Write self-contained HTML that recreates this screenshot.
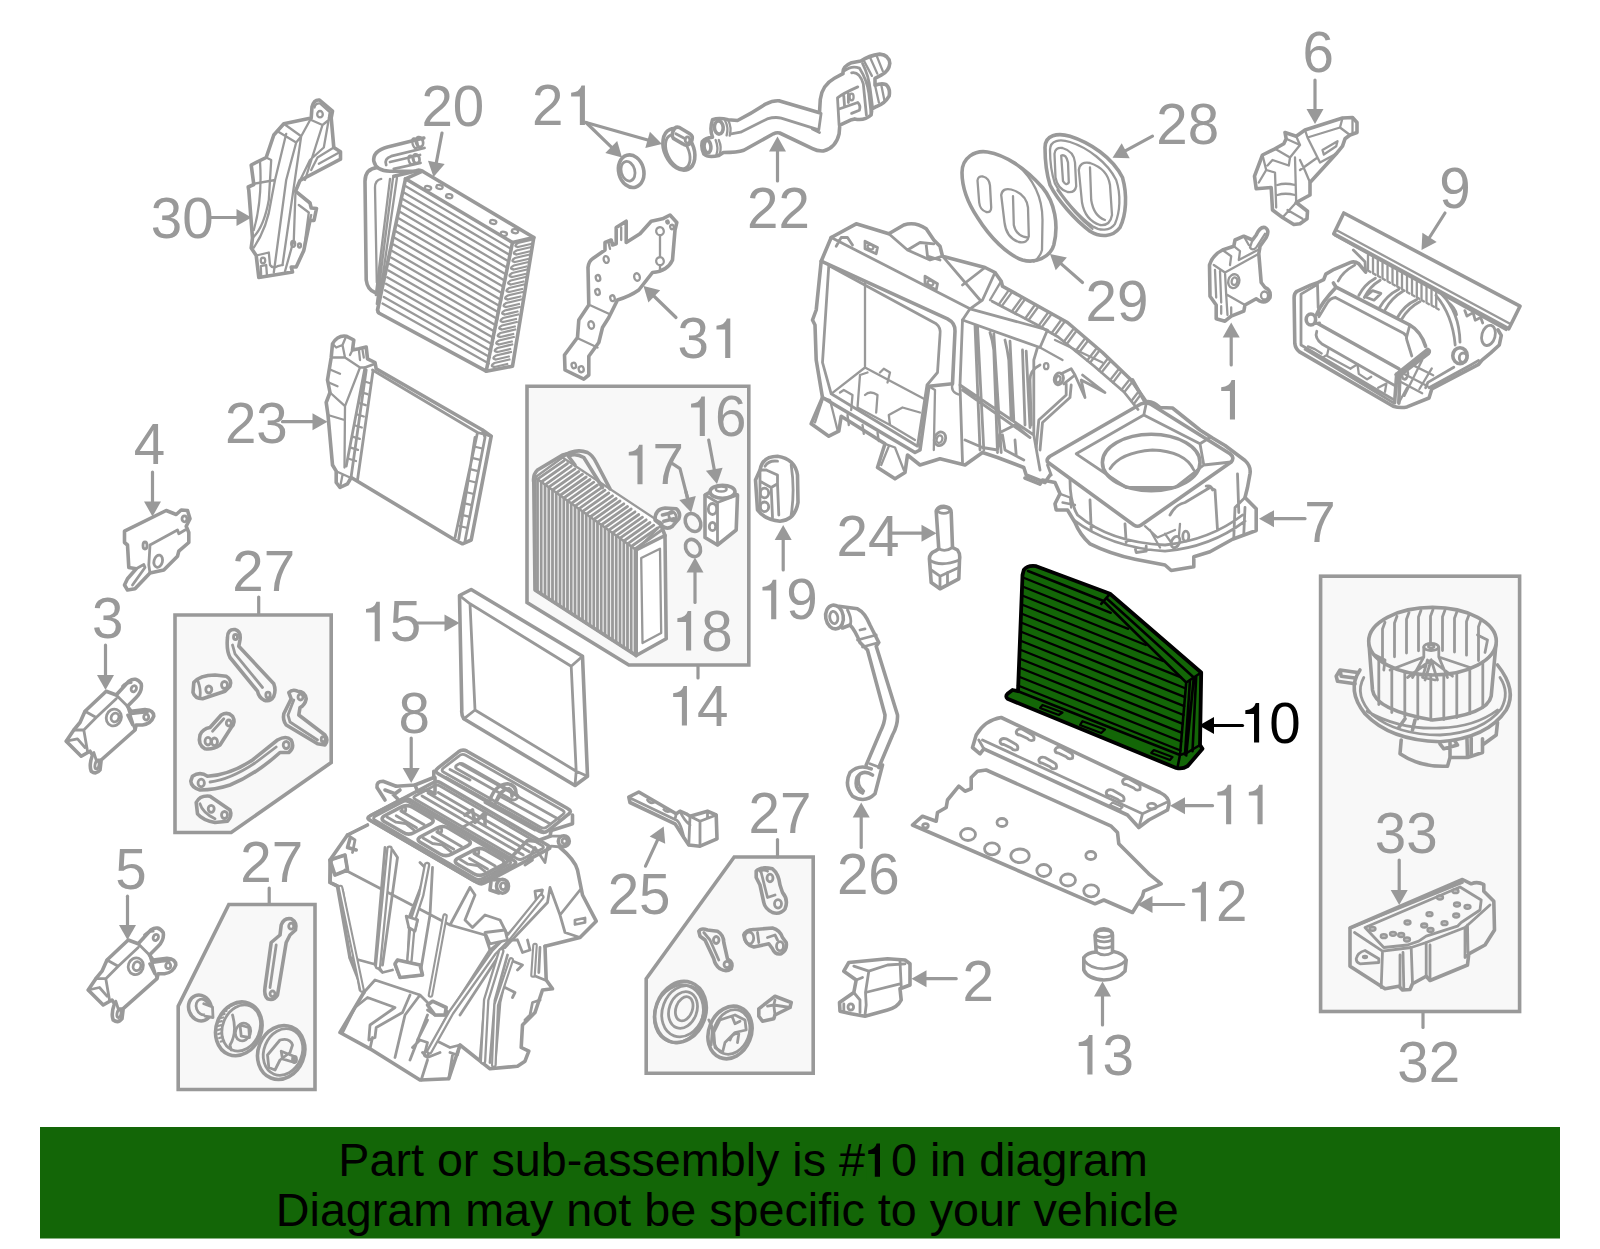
<!DOCTYPE html>
<html><head><meta charset="utf-8"><title>Diagram</title>
<style>html,body{margin:0;padding:0;background:#fff}svg{display:block}text{font-family:"Liberation Sans",sans-serif}</style>
</head><body>
<svg width="1600" height="1249" viewBox="0 0 1600 1249" stroke-linejoin="round" stroke-linecap="round">
<rect width="1600" height="1249" fill="#fff"/>
<rect x="40" y="1127" width="1520" height="111.5" fill="#136607"/>
<text x="338.3" y="1176.4" font-size="46.7" fill="#000">Part or sub-assembly is #10 in diagram</text>
<text x="275.8" y="1226.4" font-size="46.7" fill="#000">Diagram may not be specific to your vehicle</text>
<rect x="866.5" y="1139" width="24" height="42" fill="#136607"/>
<path d="M874.8 1176.8 L880 1176.8 L880 1143.6 L876.6 1143.6 Q875.2 1149.6 868.2 1150.4 L868.2 1154 L874.8 1154 Z" fill="#000"/>
<path d="M 283.8 123.8 L 311.2 118 L 312 107 Q 313.8 99.5 319.5 100 L 332.5 111.2 L 331.2 118 L 333.8 147.5 L 340.5 151.8 L 340.5 159.2 L 300 180.5 L 295.5 191.2 L 310 203 L 311.2 208 L 316.5 208.5 L 314 220.5 L 310 220.5 L 303.8 250.5 L 296.2 267 L 291.2 267 L 292.5 272 L 258.8 277.5 L 256.2 255.5 L 251.2 248 L 252.5 238 L 248.8 190.5 L 248.2 187 L 253.8 184.5 L 251.2 165 L 266.2 157.5 L 273.8 135 Z" fill="none" stroke="#999999" stroke-width="3.6"/>
<ellipse cx="320.0" cy="114.2" rx="2.8" ry="3.2" fill="none" stroke="#999999" stroke-width="2.3"/>
<path d="M 314.5 107.5 Q 315.5 103 320 103.5 L 330 112.5 L 328.8 118" fill="none" stroke="#999999" stroke-width="2.3"/>
<path d="M 283.8 123.8 L 301.2 136.2 L 311.2 118 M 301.2 136.2 L 282.5 265 M 277.5 131.2 L 296.2 142.5 L 301.2 136.2 M 296.2 142.5 L 286.2 180 L 273.8 272.5 M 286.2 133.8 L 275 180 L 253.8 183.8 M 275 180 L 271.2 200 Q 267.5 227.5 253.8 247.5" fill="none" stroke="#999999" stroke-width="2.3"/>
<path d="M 266.2 157.5 L 271.2 160 L 268.8 200 Q 263.8 227.5 252.5 238 M 260 161.2 Q 262.5 200 253.8 230" fill="none" stroke="#999999" stroke-width="2.3"/>
<path d="M 311.2 120 L 322.5 125 L 305 180 M 331.2 118 L 322.5 125 M 330 112.5 L 323.8 147.5 L 310 160 L 300 180.5 M 333.8 147.5 L 317.5 157.5 L 311.2 170 M 340.5 151.8 L 318.8 163.8" fill="none" stroke="#999999" stroke-width="2.3"/>
<path d="M 295.5 191.2 L 293.8 240 L 285 271.2 M 300 195 L 310 203 M 298.8 205 L 308.8 212.5 L 303.8 250.5 M 310 220.5 L 311.2 215" fill="none" stroke="#999999" stroke-width="2.3"/>
<ellipse cx="293.2" cy="243.8" rx="2.0" ry="3.0" fill="none" stroke="#999999" stroke-width="2.3"/>
<ellipse cx="299.5" cy="245.5" rx="1.5" ry="2.0" fill="none" stroke="#999999" stroke-width="2.3"/>
<ellipse cx="263.0" cy="260.5" rx="2.2" ry="2.8" fill="none" stroke="#999999" stroke-width="2.3"/>
<path d="M 256.2 255.5 L 268.8 252.5 L 270 265 Q 272.5 268.8 277.5 266.2 L 282.5 265 M 261.2 277 L 260.8 266.2 L 266.2 265 L 267 276.2" fill="none" stroke="#999999" stroke-width="2.3"/>
<text x="150.8" y="237.8" font-size="56.5" fill="#999999" text-anchor="start">3</text>
<text x="182.2" y="237.8" font-size="56.5" fill="#999999" text-anchor="start">0</text>
<path d="M211.0 217.5 L238.5 217.5" stroke="#999999" stroke-width="3.2" fill="none"/>
<path d="M251.5 217.5 L236.5 226.0 L236.5 209.0 Z" fill="#999999" stroke="none"/>
<text x="421.4" y="126.2" font-size="56.5" fill="#999999" text-anchor="start">2</text>
<text x="452.8" y="126.2" font-size="56.5" fill="#999999" text-anchor="start">0</text>
<path d="M442.0 133.0 L436.0 164.2" stroke="#999999" stroke-width="3.2" fill="none"/>
<path d="M433.5 177.0 L428.0 160.7 L444.7 163.9 Z" fill="#999999" stroke="none"/>
<path d="M 405.5 178.8 L 512.5 242.5 L 486.2 371.2 L 378.8 313 L 377.5 310 Z" fill="none" stroke="#999999" stroke-width="3.6"/>
<path d="M 405.5 178.8 L 422.5 171.2 L 533.8 237.5 L 512.5 242.5" fill="none" stroke="#999999" stroke-width="3.6"/>
<path d="M 533.8 237.5 L 512.5 366.2 L 486.2 371.2" fill="none" stroke="#999999" stroke-width="3.6"/>
<path d="M 404.2 185.2 L 511.2 249" fill="none" stroke="#999999" stroke-width="2.3"/>
<path d="M 403 192 L 510 255.2" fill="none" stroke="#999999" stroke-width="2.3"/>
<path d="M 401.8 198.5 L 508.8 261.5" fill="none" stroke="#999999" stroke-width="2.3"/>
<path d="M 400.8 205 L 507.5 268" fill="none" stroke="#999999" stroke-width="2.3"/>
<path d="M 399.5 211.5 L 506.2 274.5" fill="none" stroke="#999999" stroke-width="2.3"/>
<path d="M 398.2 218 L 505 280.8" fill="none" stroke="#999999" stroke-width="2.3"/>
<path d="M 397 224.8 L 503.8 287" fill="none" stroke="#999999" stroke-width="2.3"/>
<path d="M 395.8 231.2 L 502.5 293.5" fill="none" stroke="#999999" stroke-width="2.3"/>
<path d="M 394.5 237.8 L 501.2 300" fill="none" stroke="#999999" stroke-width="2.3"/>
<path d="M 393.5 244.5 L 500 306.2" fill="none" stroke="#999999" stroke-width="2.3"/>
<path d="M 392.2 251 L 498.8 312.5" fill="none" stroke="#999999" stroke-width="2.3"/>
<path d="M 391 257.5 L 497.5 319" fill="none" stroke="#999999" stroke-width="2.3"/>
<path d="M 389.8 264 L 496.2 325.5" fill="none" stroke="#999999" stroke-width="2.3"/>
<path d="M 388.5 270.5 L 495 331.8" fill="none" stroke="#999999" stroke-width="2.3"/>
<path d="M 387.2 277.2 L 493.8 338" fill="none" stroke="#999999" stroke-width="2.3"/>
<path d="M 386 283.8 L 492.5 344.5" fill="none" stroke="#999999" stroke-width="2.3"/>
<path d="M 385 290.2 L 491.2 351" fill="none" stroke="#999999" stroke-width="2.3"/>
<path d="M 383.8 297 L 490 357.2" fill="none" stroke="#999999" stroke-width="2.3"/>
<path d="M 382.5 303.5 L 488.8 363.5" fill="none" stroke="#999999" stroke-width="2.3"/>
<path d="M 533 239.5 L 518 243 Q 512.8 246 518 247 L 530.8 244" fill="none" stroke="#999999" stroke-width="2.3"/>
<path d="M 531.5 247 L 516.5 250.5 Q 511.2 253.5 516.5 254.5 L 529.2 251.5" fill="none" stroke="#999999" stroke-width="2.3"/>
<path d="M 530 254.5 L 515 258 Q 509.8 261 515 262 L 528 259" fill="none" stroke="#999999" stroke-width="2.3"/>
<path d="M 528.5 262 L 513.8 265.5 Q 508.2 268.5 513.8 269.5 L 526.5 266.5" fill="none" stroke="#999999" stroke-width="2.3"/>
<path d="M 527 269.5 L 512.2 273 Q 506.8 276 512.2 277 L 525 274" fill="none" stroke="#999999" stroke-width="2.3"/>
<path d="M 525.5 277 L 510.8 280.5 Q 505.2 283.5 510.8 284.5 L 523.5 281.5" fill="none" stroke="#999999" stroke-width="2.3"/>
<path d="M 524 284.5 L 509.2 288 Q 503.8 291 509.2 292 L 522 289" fill="none" stroke="#999999" stroke-width="2.3"/>
<path d="M 522.8 292 L 507.8 295.5 Q 502.5 298.5 507.8 299.5 L 520.5 296.5" fill="none" stroke="#999999" stroke-width="2.3"/>
<path d="M 521.2 299.5 L 506.2 303 Q 501 306 506.2 307 L 519 304" fill="none" stroke="#999999" stroke-width="2.3"/>
<path d="M 519.8 307 L 504.8 310.5 Q 499.5 313.5 504.8 314.5 L 517.5 311.5" fill="none" stroke="#999999" stroke-width="2.3"/>
<path d="M 518.2 314.5 L 503.2 318 Q 498 321 503.2 322 L 516 319" fill="none" stroke="#999999" stroke-width="2.3"/>
<path d="M 516.8 322 L 502 325.5 Q 496.5 328.5 502 329.5 L 514.8 326.5" fill="none" stroke="#999999" stroke-width="2.3"/>
<path d="M 515.2 329.5 L 500.5 333 Q 495 336 500.5 337 L 513.2 334" fill="none" stroke="#999999" stroke-width="2.3"/>
<path d="M 513.8 337 L 499 340.5 Q 493.5 343.5 499 344.5 L 511.8 341.5" fill="none" stroke="#999999" stroke-width="2.3"/>
<path d="M 512.2 344.5 L 497.5 348 Q 492 351 497.5 352 L 510.2 349" fill="none" stroke="#999999" stroke-width="2.3"/>
<path d="M 511 352 L 496 355.5 Q 490.8 358.5 496 359.5 L 508.8 356.5" fill="none" stroke="#999999" stroke-width="2.3"/>
<path d="M 509.5 359.5 L 494.5 363 Q 489.2 366 494.5 367 L 507.2 364" fill="none" stroke="#999999" stroke-width="2.3"/>
<ellipse cx="428.0" cy="188.0" rx="3.2" ry="2.0" fill="none" stroke="#999999" stroke-width="2.3" transform="rotate(10 428.0 188.0)"/>
<ellipse cx="439.5" cy="187.0" rx="3.2" ry="2.0" fill="none" stroke="#999999" stroke-width="2.3" transform="rotate(10 439.5 187.0)"/>
<ellipse cx="449.2" cy="196.2" rx="3.2" ry="2.0" fill="none" stroke="#999999" stroke-width="2.3" transform="rotate(10 449.2 196.2)"/>
<ellipse cx="493.2" cy="222.0" rx="3.2" ry="2.0" fill="none" stroke="#999999" stroke-width="2.3" transform="rotate(10 493.2 222.0)"/>
<ellipse cx="503.8" cy="233.8" rx="3.2" ry="2.0" fill="none" stroke="#999999" stroke-width="2.3" transform="rotate(10 503.8 233.8)"/>
<ellipse cx="515.0" cy="231.2" rx="3.2" ry="2.0" fill="none" stroke="#999999" stroke-width="2.3" transform="rotate(10 515.0 231.2)"/>
<path d="M 422.5 171.2 Q 418.8 168.8 415 171.2 L 393.8 176.2 M 377.5 167.5 Q 365 168.8 365 181.2 L 366.2 280 Q 367.5 290 375 292.5" fill="none" stroke="#999999" stroke-width="3.6"/>
<path d="M 381.2 178.8 Q 375 180 375 187.5 L 376.8 282.5" fill="none" stroke="#999999" stroke-width="2.3"/>
<path d="M 390 178.8 L 375.8 295 M 397 177.5 L 377.5 312.5 L 379 313.2 M 393 178 L 376.8 303.8" fill="none" stroke="#999999" stroke-width="2.3"/>
<path d="M 423.8 138 L 387.5 147 Q 372.5 151.2 373.8 161.2 Q 376.2 171.2 390 171.2 L 415 171.2" fill="none" stroke="#999999" stroke-width="3.6"/>
<path d="M 424.5 148 L 391.2 156.2 Q 383.8 158.8 386.2 165 M 420 155 L 390 162 M 420.5 163 L 393.8 168.8" fill="none" stroke="#999999" stroke-width="2.8"/>
<ellipse cx="419.5" cy="142.0" rx="3.5" ry="5.0" fill="none" stroke="#999999" stroke-width="2.8" transform="rotate(-15 419.5 142.0)"/>
<ellipse cx="415.0" cy="143.2" rx="2.5" ry="5.0" fill="none" stroke="#999999" stroke-width="2.3" transform="rotate(-15 415.0 143.2)"/>
<ellipse cx="416.2" cy="158.8" rx="3.2" ry="4.5" fill="none" stroke="#999999" stroke-width="2.8" transform="rotate(-15 416.2 158.8)"/>
<ellipse cx="411.2" cy="160.0" rx="2.5" ry="4.5" fill="none" stroke="#999999" stroke-width="2.3" transform="rotate(-15 411.2 160.0)"/>
<path d="M 651.2 221.2 L 662.5 218.8 L 670 215 L 676.8 222.5 L 675 230 L 672.5 260 Q 667.5 271.2 652.5 272.5 L 638.8 290 Q 630 296.2 617.5 300 L 608.8 317.5 L 602.5 327.5 L 598.8 342.5 L 588.8 356.2 L 588.8 375 L 583.8 379.2 L 565 370 L 564.5 355 L 577.5 337.5 L 578.8 320 L 588.8 305 L 588 267.5 Q 588.8 261.2 592.5 258.8 L 605 250 L 605 242.5 L 611.2 240 L 612.5 245 L 616.2 243.8 L 616.2 227.5 L 626.2 221.2 L 626.2 242.5 L 640 233.8 Z" fill="none" stroke="#999999" stroke-width="3.6"/>
<ellipse cx="606.2" cy="259.5" rx="2.5" ry="3.5" fill="none" stroke="#999999" stroke-width="2.3" transform="rotate(-15 606.2 259.5)"/>
<ellipse cx="598.0" cy="278.0" rx="2.2" ry="3.0" fill="none" stroke="#999999" stroke-width="2.3" transform="rotate(-15 598.0 278.0)"/>
<ellipse cx="597.5" cy="292.0" rx="2.2" ry="3.0" fill="none" stroke="#999999" stroke-width="2.3" transform="rotate(-15 597.5 292.0)"/>
<ellipse cx="612.5" cy="298.2" rx="2.2" ry="3.0" fill="none" stroke="#999999" stroke-width="2.3" transform="rotate(-15 612.5 298.2)"/>
<ellipse cx="637.0" cy="277.0" rx="2.8" ry="3.8" fill="none" stroke="#999999" stroke-width="2.3" transform="rotate(-15 637.0 277.0)"/>
<ellipse cx="591.2" cy="325.0" rx="2.8" ry="3.8" fill="none" stroke="#999999" stroke-width="2.3" transform="rotate(-15 591.2 325.0)"/>
<ellipse cx="660.0" cy="231.2" rx="3.8" ry="4.0" fill="none" stroke="#999999" stroke-width="2.3" transform="rotate(-15 660.0 231.2)"/>
<ellipse cx="660.0" cy="261.2" rx="3.8" ry="4.0" fill="none" stroke="#999999" stroke-width="2.3" transform="rotate(-15 660.0 261.2)"/>
<ellipse cx="672.0" cy="227.0" rx="1.8" ry="2.2" fill="none" stroke="#999999" stroke-width="2.3" transform="rotate(-15 672.0 227.0)"/>
<ellipse cx="573.8" cy="365.5" rx="2.2" ry="2.8" fill="none" stroke="#999999" stroke-width="2.3" transform="rotate(-15 573.8 365.5)"/>
<ellipse cx="581.2" cy="369.2" rx="2.5" ry="3.0" fill="none" stroke="#999999" stroke-width="2.3" transform="rotate(-15 581.2 369.2)"/>
<ellipse cx="667.5" cy="222.0" rx="1.2" ry="1.5" fill="none" stroke="#999999" stroke-width="2.3" transform="rotate(-15 667.5 222.0)"/>
<path d="M 660 235.5 L 660 257 M 660 265.5 L 660 270 M 590.8 305.5 L 608.8 313.8 M 578.8 338.8 L 597.5 347.5 M 621.2 227.5 L 621.2 240 M 608.8 243.8 L 610 248.8" fill="none" stroke="#999999" stroke-width="2.3"/>
<text x="677.5" y="358.0" font-size="56.5" fill="#999999" text-anchor="start">3</text>
<path d="M725.19 358.00 L730.29 358.00 L730.29 318.50 L726.89 318.50 Q725.09 325.00 716.49 325.80 L716.49 329.40 L725.19 329.40 Z" fill="#999999" stroke="none"/>
<path d="M676.0 317.5 L652.8 295.0" stroke="#999999" stroke-width="3.2" fill="none"/>
<path d="M643.5 286.0 L660.2 290.3 L648.4 302.5 Z" fill="#999999" stroke="none"/>
<ellipse cx="631.2" cy="171.2" rx="12.5" ry="16.5" fill="none" stroke="#999999" stroke-width="3.6" transform="rotate(-15 631.2 171.2)"/>
<ellipse cx="628.0" cy="171.2" rx="6.8" ry="10.0" fill="none" stroke="#999999" stroke-width="2.8" transform="rotate(-15 628.0 171.2)"/>
<text x="532.1" y="125.0" font-size="56.5" fill="#999999" text-anchor="start">2</text>
<path d="M579.84 125.00 L584.94 125.00 L584.94 85.50 L581.54 85.50 Q579.74 92.00 571.14 92.80 L571.14 96.40 L579.84 96.40 Z" fill="#999999" stroke="none"/>
<path d="M586.0 122.5 L612.7 148.4" stroke="#999999" stroke-width="3.2" fill="none"/>
<path d="M622.0 157.5 L605.3 153.1 L617.2 140.9 Z" fill="#999999" stroke="none"/>
<path d="M586.0 122.5 L649.5 140.5" stroke="#999999" stroke-width="3.2" fill="none"/>
<path d="M662.0 144.0 L645.3 148.1 L649.9 131.7 Z" fill="#999999" stroke="none"/>
<path d="M 712.5 119.7 Q 718.8 117.3 728.1 119.7 L 737.5 120.5 Q 751.6 113.4 765.6 104.1 Q 773.4 100.2 779.7 100.9 L 819.5 112.7 L 820.3 99.4 Q 821.9 85.3 834.4 78.3 L 843 73.6 Q 842.2 66.6 851.6 62.7 L 860.9 61.1 Q 868.8 55.6 879.7 54.1 Q 889.1 54.8 889.8 63.4 Q 889.1 71.2 881.2 75.2 L 875 78.3 L 875 85.3 Q 881.2 83 885.9 84.5 Q 890.6 88.4 889.1 96.2 Q 884.4 104.1 876.6 106.4 L 871.9 108.8 L 871.1 115 Q 864.1 121.2 854.7 118.9 L 851.6 119.7 L 839.8 125.2 L 839.1 133.8 Q 835.9 147.8 823.4 150.9 Q 817.2 151.2 812.5 148.6 L 779.7 133 Q 776.6 132.2 773.4 133.8 L 743.8 150.2 Q 737.5 152.5 723.4 152.5 L 718.8 155.6 Q 707.8 158 703.9 154.1 Q 700.8 147.8 702.3 141.6 Q 705.5 137.7 712.5 137.2 Q 709.4 129.1 712.5 119.7 Z" fill="none" stroke="#999999" stroke-width="3.6"/>
<path d="M 731.2 133.8 L 740.6 132.2 Q 756.2 124.4 767.2 118.9 Q 775 116.6 781.2 118.1 L 818.8 129.8 L 821.1 113.4 M 812.5 129.1 L 819.5 132.5" fill="none" stroke="#999999" stroke-width="2.8"/>
<ellipse cx="718.8" cy="127.5" rx="4.4" ry="6.6" fill="none" stroke="#999999" stroke-width="3.6" transform="rotate(-5 718.8 127.5)"/>
<path d="M 725 120.5 Q 728.9 127.5 726.6 135.3 M 728.1 120 Q 732 127.5 729.7 135.6" fill="none" stroke="#999999" stroke-width="2.3"/>
<ellipse cx="707.5" cy="146.6" rx="3.4" ry="6.2" fill="none" stroke="#999999" stroke-width="3.6" transform="rotate(-5 707.5 146.6)"/>
<path d="M 715.6 140 Q 718.8 147.8 716.4 154.8 M 718.8 140 Q 722.2 147.8 719.5 154.1" fill="none" stroke="#999999" stroke-width="2.3"/>
<path d="M 837.5 97.8 L 839.1 125.2 M 837.5 97.8 Q 842.2 93.9 857.8 86.9 M 843.8 96.2 L 844.5 105.6 M 848.4 93.9 L 848.4 102.5 M 839.8 108.8 L 857.8 102.5 Q 860.9 105.6 859.4 110.3 L 851.6 113.4" fill="none" stroke="#999999" stroke-width="2.8"/>
<ellipse cx="851.6" cy="97.0" rx="2.0" ry="3.3" fill="none" stroke="#999999" stroke-width="2.3"/>
<path d="M 843.8 71.2 Q 851.6 65 859.4 68.1 Q 867.2 80.6 868.8 93.1 L 871.1 113.4 M 862.5 63.4 Q 868.8 75.9 870.3 90 L 872.7 108.8 M 851.6 72.8 Q 859.4 71.2 863.3 83.8 L 866.4 115" fill="none" stroke="#999999" stroke-width="2.8"/>
<path d="M 864.1 61.1 L 871.9 75.9 M 870.3 58 L 877.3 73.6 M 876.6 55.6 L 882.8 71.2 M 875 85.3 L 878.9 102.5 M 881.2 84.5 L 884.4 100.2" fill="none" stroke="#999999" stroke-width="2.3"/>
<text x="747.1" y="228.0" font-size="56.5" fill="#999999" text-anchor="start">2</text>
<text x="778.5" y="228.0" font-size="56.5" fill="#999999" text-anchor="start">2</text>
<path d="M777.5 181.0 L777.5 149.5" stroke="#999999" stroke-width="3.2" fill="none"/>
<path d="M777.5 136.5 L786.0 151.5 L769.0 151.5 Z" fill="#999999" stroke="none"/>
<ellipse cx="678.9" cy="149.4" rx="14.4" ry="21.9" fill="none" stroke="#999999" stroke-width="3.6" transform="rotate(-25 678.9 149.4)"/>
<ellipse cx="677.8" cy="151.7" rx="10.6" ry="18.0" fill="none" stroke="#999999" stroke-width="2.8" transform="rotate(-25 677.8 151.7)"/>
<path d="M 673.4 130.6 Q 675 126.2 679.4 127.5 L 689.8 133.8 Q 693.4 136.1 691.9 140.3 L 689.8 143.9 Q 686.2 146.6 682.8 143.9 L 673.4 138.4 Q 671.1 135.3 673.4 130.6 Z" fill="#fff" stroke="#999999" stroke-width="3.6"/>
<ellipse cx="687.5" cy="140.0" rx="2.3" ry="3.1" fill="none" stroke="#999999" stroke-width="2.8"/>
<path d="M 675.8 133.8 L 685.2 138.8" fill="none" stroke="#999999" stroke-width="2.8"/>
<path d="M 962 172.5 C 962 157.5 975 150 987.5 152 C 1005 155 1025 167.5 1042.5 187.5 C 1055 202.5 1058.8 225 1053.8 245 C 1050 257.5 1035 263.8 1022.5 260 C 1007.5 255 990 237.5 977.5 217.5 C 967.5 202.5 962 187.5 962 172.5 Z" fill="none" stroke="#999999" stroke-width="3.6"/>
<path d="M 1015 163 C 1032.5 177.5 1042.5 197.5 1042.5 220 L 1042 250 Q 1040 257.5 1033.8 261.5" fill="none" stroke="#999999" stroke-width="2.3"/>
<path d="M 977.5 180.5 Q 978 175.8 983 176.5 Q 989.2 178 990 185.5 L 991.2 207.5 Q 991.2 213 986.2 212 Q 980 210 979.2 202.5 Z" fill="none" stroke="#999999" stroke-width="2.3"/>
<path d="M 1001.2 195 Q 1002.5 187.5 1011.2 189.5 Q 1026.2 193.8 1028 207.5 L 1028.8 236.2 Q 1027.5 243.8 1018.8 242 Q 1006.2 237.5 1004.5 222.5 Z M 1013 196.2 L 1013.8 225 Q 1016.2 236.2 1027.5 237.5" fill="none" stroke="#999999" stroke-width="2.3"/>
<path d="M 1045 147.5 C 1045 135 1057.5 132.5 1070 136.2 C 1090 142.5 1112.5 157.5 1122.5 177.5 C 1127.5 195 1126.2 215 1120 227.5 C 1112.5 237.5 1100 237.5 1090 231.2 C 1075 220 1057.5 200 1050 185 C 1046.2 172.5 1045 160 1045 147.5 Z" fill="none" stroke="#999999" stroke-width="3.6"/>
<path d="M 1050 150 C 1050 140 1060 138.8 1070 142 C 1087.5 147.5 1107.5 162.5 1116.2 180 C 1121.2 195 1120 212.5 1115 223.8 C 1110 231.2 1100 231.2 1092.5 226.2 C 1078.8 216.2 1062.5 197.5 1055 183.8 C 1051.2 172.5 1050 160 1050 150 Z" fill="none" stroke="#999999" stroke-width="2.3"/>
<path d="M 1054.5 153.8 Q 1055 147 1062.5 148 Q 1073.8 151.2 1075 162.5 L 1076.2 186.2 Q 1075 193 1067.5 192 Q 1057.5 188.8 1055.5 177.5 Z M 1061.2 155.5 Q 1066.2 153.8 1068 162.5 L 1068.8 182.5 Q 1066.2 186.2 1063 181.2 Z" fill="none" stroke="#999999" stroke-width="2.3"/>
<path d="M 1078.8 170 Q 1080 161.2 1090 163 Q 1107.5 168.8 1110 185 L 1112 215 Q 1110 226.2 1100 225 Q 1085 220 1082 202.5 Z M 1090 167.5 L 1091.2 200 Q 1093.8 216.2 1105 220 M 1057.5 190 Q 1075 215 1092.5 228.8" fill="none" stroke="#999999" stroke-width="2.3"/>
<text x="1156.2" y="143.5" font-size="56.5" fill="#999999" text-anchor="start">2</text>
<text x="1187.7" y="143.5" font-size="56.5" fill="#999999" text-anchor="start">8</text>
<path d="M1152.5 136.2 L1123.9 151.6" stroke="#999999" stroke-width="3.2" fill="none"/>
<path d="M1112.5 157.8 L1121.7 143.2 L1129.7 158.2 Z" fill="#999999" stroke="none"/>
<text x="1085.6" y="321.0" font-size="56.5" fill="#999999" text-anchor="start">2</text>
<text x="1117.0" y="321.0" font-size="56.5" fill="#999999" text-anchor="start">9</text>
<path d="M1082.5 282.5 L1059.8 262.6" stroke="#999999" stroke-width="3.2" fill="none"/>
<path d="M1050.0 254.0 L1066.9 257.5 L1055.7 270.3 Z" fill="#999999" stroke="none"/>
<path d="M 1216.2 318.8 L 1216.2 305 L 1210 296.2 L 1209.5 265 Q 1212.5 255 1222.5 250 L 1233.8 246.2 L 1235 240 L 1243.8 236.2 L 1252.5 240 L 1256.2 235 Q 1260 226.2 1265 227.5 Q 1270 230 1266.2 237.5 L 1260 246.2 L 1258.8 253.8 L 1261.2 282.5 L 1265 287.5 Q 1271.2 290 1270 297.5 Q 1266.2 303.8 1260 301.2 L 1256.2 298.8 L 1245 305 L 1243.8 311.2 L 1231.2 316.2 L 1225 321.2 Z" fill="none" stroke="#999999" stroke-width="3.6"/>
<ellipse cx="1233.8" cy="281.2" rx="5.5" ry="7.0" fill="none" stroke="#999999" stroke-width="2.3" transform="rotate(15 1233.8 281.2)"/>
<ellipse cx="1234.5" cy="281.2" rx="2.8" ry="3.8" fill="none" stroke="#999999" stroke-width="2.3" transform="rotate(15 1234.5 281.2)"/>
<path d="M 1213.8 265 L 1225 272.5 L 1258.8 253.8 M 1225 272.5 L 1226.2 295 L 1227.5 315 M 1215 270 L 1216.2 297.5 M 1220 271.2 L 1221.2 302.5 M 1222.5 250 L 1231.2 256.2 L 1230 265 M 1233.8 246.2 L 1240 251.2 L 1238.8 260 L 1260 248.8 M 1243.8 236.2 L 1248.8 245 M 1252.5 240 L 1250 247.5 Q 1252.5 251.2 1256.2 247.5 L 1265 233.8 M 1227.5 295 L 1245 305 M 1231.2 316.2 L 1231.2 307.5 M 1221.2 313.8 L 1221.2 306.2" fill="none" stroke="#999999" stroke-width="2.3"/>
<ellipse cx="1264.5" cy="295.5" rx="3.5" ry="4.0" fill="none" stroke="#999999" stroke-width="2.3"/>
<path d="M1229.90 419.50 L1235.00 419.50 L1235.00 380.00 L1231.60 380.00 Q1229.80 386.50 1221.20 387.30 L1221.20 390.90 L1229.90 390.90 Z" fill="#999999" stroke="none"/>
<path d="M1231.2 365.0 L1231.2 335.5" stroke="#999999" stroke-width="3.2" fill="none"/>
<path d="M1231.2 322.5 L1239.7 337.5 L1222.7 337.5 Z" fill="#999999" stroke="none"/>
<path d="M 1285 132.5 L 1296.2 136.2 L 1305 130 L 1342.5 118 L 1352.5 117.5 L 1357 122.5 L 1357 132.5 L 1350 135 L 1345 138.8 L 1342.5 146.2 L 1336.2 153.8 L 1310 182.5 L 1310 195 L 1296.2 202.5 L 1307.5 211.2 L 1307 218.8 L 1300 223.8 L 1293.8 224.5 L 1282.5 217.5 L 1272.5 210 L 1271.2 187.5 L 1256.2 188.8 L 1254.5 176.2 L 1262.5 155 L 1275 148.8 L 1283.8 143.8 L 1286.2 138.8 Z" fill="none" stroke="#999999" stroke-width="3.6"/>
<path d="M 1296.2 136.2 L 1300 145 L 1286.2 138.8 M 1305 130 L 1307.5 137.5 L 1320 162.5 L 1336.2 153.8 M 1307.5 137.5 L 1340 127.5 L 1342.5 118 M 1322.5 150 L 1337.5 141.2 L 1336.2 146.2 L 1323.8 154.5 Z M 1275 148.8 L 1290 157.5 L 1300 145 M 1290 157.5 L 1288.8 165.5 L 1272.5 160 L 1267.5 165.5 M 1262.5 155 L 1266.2 170 L 1258.8 182.5 M 1266.2 170 L 1275 172.5 L 1276.2 207.5 M 1295 157.5 L 1296.2 202.5 M 1300 160 Q 1305 170 1310 182.5 M 1277.5 185 Q 1285 182.5 1295 185 M 1277.5 195 Q 1285 192.5 1295 195 M 1282.5 217.5 L 1296.2 202.5 M 1287.5 210 L 1302.5 218.8 M 1340 127.5 L 1350 135 M 1352.5 117.5 L 1352.5 132.5 M 1300 170 L 1317.5 157.5" fill="none" stroke="#999999" stroke-width="2.3"/>
<text x="1302.4" y="71.8" font-size="56.5" fill="#999999" text-anchor="start">6</text>
<path d="M1315.0 80.0 L1315.0 111.0" stroke="#999999" stroke-width="3.2" fill="none"/>
<path d="M1315.0 124.0 L1306.5 109.0 L1323.5 109.0 Z" fill="#999999" stroke="none"/>
<path d="M 1343.8 213 L 1520 306.2 L 1508.8 328.8 L 1333.8 233.8 Z" fill="none" stroke="#999999" stroke-width="3.6"/>
<path d="M 1336.2 230 L 1510 323.8 M 1335 235.5 L 1506.2 330" fill="none" stroke="#999999" stroke-width="2.3"/>
<path d="M 1368 255 L 1368 270.5 L 1370.5 272" fill="none" stroke="#999999" stroke-width="2.3"/>
<path d="M 1373 257.8 L 1373 273.2 L 1375.5 274.8" fill="none" stroke="#999999" stroke-width="2.3"/>
<path d="M 1377.8 260.2 L 1377.8 275.8 L 1380.2 277.2" fill="none" stroke="#999999" stroke-width="2.3"/>
<path d="M 1382.5 263 L 1382.5 278.5 L 1385 280" fill="none" stroke="#999999" stroke-width="2.3"/>
<path d="M 1387.5 265.8 L 1387.5 281.2 L 1390 282.8" fill="none" stroke="#999999" stroke-width="2.3"/>
<path d="M 1392.5 268.5 L 1392.5 284 L 1395 285.5" fill="none" stroke="#999999" stroke-width="2.3"/>
<path d="M 1397.2 271 L 1397.2 286.5 L 1399.8 288" fill="none" stroke="#999999" stroke-width="2.3"/>
<path d="M 1402 273.8 L 1402 289.2 L 1404.5 290.8" fill="none" stroke="#999999" stroke-width="2.3"/>
<path d="M 1407 276.5 L 1407 292 L 1409.5 293.5" fill="none" stroke="#999999" stroke-width="2.3"/>
<path d="M 1412 279.2 L 1412 294.8 L 1414.5 296.2" fill="none" stroke="#999999" stroke-width="2.3"/>
<path d="M 1416.8 281.8 L 1416.8 297.2 L 1419.2 298.8" fill="none" stroke="#999999" stroke-width="2.3"/>
<path d="M 1421.5 284.5 L 1421.5 300 L 1424 301.5" fill="none" stroke="#999999" stroke-width="2.3"/>
<path d="M 1426.5 287.2 L 1426.5 302.8 L 1429 304.2" fill="none" stroke="#999999" stroke-width="2.3"/>
<path d="M 1431.5 289.8 L 1431.5 305.2 L 1434 306.8" fill="none" stroke="#999999" stroke-width="2.3"/>
<path d="M 1436.2 292.5 L 1436.2 308 L 1438.8 309.5" fill="none" stroke="#999999" stroke-width="2.3"/>
<path d="M 1365.7 272 L 1358.8 263.8 Q 1354.7 261 1350.6 262.4 L 1334.1 269.3 L 1325.8 274.1 L 1323.7 279.6 L 1316.8 283 L 1310.6 285.1 L 1296.9 291.3 Q 1294.1 293.4 1294.1 297.5 L 1294.8 343.6 Q 1295.5 349.1 1299.6 351.9 L 1393.2 406.2 Q 1400.1 408.3 1407 406.9 L 1429 398 L 1431.8 389 L 1478.6 364.3 L 1482 360.1 L 1491 352.6 L 1499.3 345 L 1501.3 335.4 L 1497.9 329.8" fill="none" stroke="#999999" stroke-width="3.6"/>
<path d="M 1353.3 250 L 1365 261.7 L 1365.7 272 M 1317.5 284.4 L 1301 294.1 L 1301 345 L 1394.6 400.1 M 1305.1 349.4 L 1393.9 403.1 M 1317.5 284.4 L 1318.2 307.8" fill="none" stroke="#999999" stroke-width="2.8"/>
<path d="M 1333.4 283 L 1336.1 287.2 L 1409.8 325 Q 1420.8 331.2 1425.6 346.4 M 1336.1 287.2 Q 1321.7 302.3 1316.8 314 M 1318.2 323.7 L 1398.8 368.7 M 1396 374.6 L 1427.7 349.4 Q 1430.7 350.8 1428.4 353.5 L 1399 376 M 1396.7 373.9 L 1394.6 402.8 M 1400.1 371.8 L 1398.8 403.1" fill="none" stroke="#999999" stroke-width="3.6"/>
<path d="M 1335.4 297.5 L 1403.6 333.3 Q 1407 335.4 1406.7 339.5 L 1411.8 356 M 1335.4 297.5 Q 1329.9 298.2 1327.2 303 L 1318.9 316.8 M 1409.8 325 L 1406.3 338.1 M 1316.8 331.2 Q 1314.1 338.1 1322.4 344.3 L 1396 386.3" fill="none" stroke="#999999" stroke-width="2.8"/>
<ellipse cx="1310.9" cy="319.5" rx="4.7" ry="5.5" fill="none" stroke="#999999" stroke-width="3.6"/>
<path d="M 1314.8 316.1 L 1319.6 313.3 M 1315.5 323.7 L 1319.6 323" fill="none" stroke="#999999" stroke-width="2.8"/>
<path d="M 1338.2 281 Q 1342.3 272 1354.7 265.1 M 1358.8 295.4 Q 1364.3 284.4 1375.4 278.2 M 1364.3 297.5 Q 1369.8 286.5 1380.2 280.3 M 1379.5 307.8 Q 1386.4 295.4 1398.8 289.2 M 1385 309.9 Q 1391.2 298.2 1402.9 291.3 M 1397.4 317.5 Q 1404.3 305.1 1416.7 299.6 M 1401.5 319.5 Q 1408.4 307.8 1420.1 301.6 M 1365 296.8 L 1372.6 290.6 L 1380.9 293.4 L 1374 300.2 Z" fill="none" stroke="#999999" stroke-width="2.8"/>
<path d="M 1435.9 295.4 Q 1452.4 314.7 1455.2 345 M 1441.4 294.1 Q 1459.3 311.9 1460 342.2 M 1448.3 302.3 Q 1455.2 307.8 1456.6 314.7 M 1464.8 310.6 L 1466.9 316.1 L 1473.1 312.6 L 1475.2 320.2 L 1480.7 317.5 L 1482.7 323" fill="none" stroke="#999999" stroke-width="2.8"/>
<ellipse cx="1460.0" cy="355.7" rx="7.2" ry="8.0" fill="none" stroke="#999999" stroke-width="3.6"/>
<ellipse cx="1463.2" cy="357.7" rx="3.9" ry="4.7" fill="none" stroke="#999999" stroke-width="2.8"/>
<ellipse cx="1488.5" cy="335.4" rx="6.6" ry="10.3" fill="none" stroke="#999999" stroke-width="2.8" transform="rotate(15 1488.5 335.4)"/>
<path d="M 1401.5 382.2 L 1422.2 393.2 M 1404.3 373.9 L 1427.7 386.3 M 1413.9 365.6 L 1433.2 375.3 M 1422.2 360.1 L 1404.3 395.9 M 1431.8 368.4 L 1419.4 389 M 1407 387.7 L 1398.8 402.8" fill="none" stroke="#999999" stroke-width="2.3"/>
<ellipse cx="1405.0" cy="374.6" rx="2.8" ry="4.7" fill="none" stroke="#999999" stroke-width="2.8" transform="rotate(10 1405.0 374.6)"/>
<path d="M 1307.9 346.4 L 1314.8 349.1 L 1321.7 353.5 M 1328.5 349.1 L 1327.2 354.6 L 1323 357.4 M 1350.6 368.4 L 1357.5 364.3 L 1358.8 373.9 L 1367.1 379.4 L 1371.2 376.7 M 1378.1 387.7 L 1386.4 383.5 L 1385 391.8 M 1327.2 356 L 1350.6 368.7" fill="none" stroke="#999999" stroke-width="2.3"/>
<path d="M 1429 387.7 L 1469 365.9 L 1478.6 360.4 M 1425.6 387.7 L 1427.9 382.4 L 1453.8 367.3" fill="none" stroke="#999999" stroke-width="2.8"/>
<text x="1439.3" y="208.0" font-size="56.5" fill="#999999" text-anchor="start">9</text>
<path d="M1445.0 213.0 L1428.5 239.0" stroke="#999999" stroke-width="3.2" fill="none"/>
<path d="M1421.5 250.0 L1422.4 232.8 L1436.7 241.9 Z" fill="#999999" stroke="none"/>
<path d="M 831.2 237.5 L 856.2 223.8 L 888.8 233.8 L 903.8 225 Q 915 221.2 926.2 228.8 L 933.8 240 L 940 246.2 L 942.5 256.2 L 985 267.5 L 995 272.5 L 1001.2 281.2 L 1002.5 286.2 L 1045 310 L 1067.5 322.5 L 1102.5 352.5 L 1131.2 380 L 1145 400" fill="none" stroke="#999999" stroke-width="3.6"/>
<path d="M 831.2 237.5 L 821.2 261.2 L 816.2 310 L 812.5 320 L 815 325 L 816.2 360 L 821.2 390 L 822.5 397.5 L 811.2 423.8 L 828.8 436.2 L 838.8 431.2 L 841.2 416.2 L 885 443.8 L 877.5 467.5 L 895 478.8 L 905 472.5 L 907.5 455 L 920 465 L 940 458.8 L 965 465 L 982.5 452.5 L 997.5 457.5 L 1023.8 467.5 L 1026.2 475 L 1045 482.5 L 1050 475" fill="none" stroke="#999999" stroke-width="3.6"/>
<path d="M 821.2 261.2 L 947.5 318.8 Q 955.5 323 955 331.2 L 952.5 383.8 L 928.8 386.2 L 920 450 L 915 452.5 L 822.5 397.5" fill="none" stroke="#999999" stroke-width="3.6"/>
<path d="M 828.8 265.5 L 936.2 323.8 Q 941.2 327.5 940 335 L 937.5 372.5 L 927 385 L 917.5 446.2 L 831.2 393.8 L 822.5 362.5 Z" fill="none" stroke="#999999" stroke-width="2.8"/>
<path d="M 831.2 237.5 L 970 308.8 L 962.5 320 L 960 385 L 962.5 462.5 M 836.2 246.2 L 841.2 237.5 L 847.5 237.5 L 852.5 245 M 888.8 233.8 L 907.5 250 L 930 260 L 942.5 256.2 M 907.5 250 L 920 242.5 L 933.8 243.8 M 926.2 245 L 927.5 256.2 L 940 260 M 942.5 256.2 L 980 300 M 985 267.5 L 962.5 285 M 995 272.5 L 982.5 300 L 970 308.8" fill="none" stroke="#999999" stroke-width="2.8"/>
<path d="M 865 241.2 L 877.5 247.5 L 876.2 253.8 L 865 248.8 Z M 925 276.2 L 937.5 283.8 L 936.2 290 L 925 283.8 Z" fill="none" stroke="#999999" stroke-width="2.8"/>
<ellipse cx="870.5" cy="247.0" rx="3.0" ry="2.2" fill="none" stroke="#999999" stroke-width="2.3" transform="rotate(20 870.5 247.0)"/>
<ellipse cx="930.5" cy="283.0" rx="3.0" ry="2.2" fill="none" stroke="#999999" stroke-width="2.3" transform="rotate(20 930.5 283.0)"/>
<path d="M 865 282.5 L 865 367.5 L 831.2 393.8 M 865 367.5 L 926.2 400 M 867.5 372.5 L 860 375 L 857.5 407.5 L 890 425 L 888.8 415 L 902.5 407.5 L 920 412.5 M 840 392.5 L 843.8 390 L 852.5 395 L 851.2 410 M 880 372.5 L 883.8 368.8 L 890 372.5 L 887.5 382.5 M 865 395 Q 870 390 877.5 395 L 876.2 412.5 M 890 425 L 915 440 M 847.5 415 L 848.8 425 M 862.5 425 L 863.8 433.8 M 877.5 432.5 L 878.8 441.2 M 822.5 397.5 L 830 400 L 837.5 430 M 815 422.5 L 822.5 400 M 885 443.8 L 895 447.5 L 903.8 470 M 881.2 465 L 888.8 446.2" fill="none" stroke="#999999" stroke-width="2.3"/>
<ellipse cx="940.0" cy="438.8" rx="5.5" ry="7.0" fill="none" stroke="#999999" stroke-width="2.8" transform="rotate(20 940.0 438.8)"/>
<ellipse cx="939.5" cy="439.2" rx="2.8" ry="3.8" fill="none" stroke="#999999" stroke-width="2.3" transform="rotate(20 939.5 439.2)"/>
<path d="M 928.8 386.2 L 935 390 L 933.8 450 M 952.5 383.8 Q 950 392.5 960 395" fill="none" stroke="#999999" stroke-width="2.3"/>
<path d="M 970 308.8 L 1047.5 330 L 1040 347.5 L 962.5 320 M 975 325 L 980 450 M 977.5 326.2 L 983.8 450 M 990 332.5 Q 992.5 340 993.8 350 L 997.5 452.5 M 993.8 333.8 L 1001.2 452.5 M 1005 340 Q 1007.5 350 1008.8 360 L 1011.2 420 M 1010 341.2 L 1013.8 420 M 1022.5 350 L 1025 425 M 1026.2 351.2 L 1030 427.5 M 1037.5 347.5 L 1033.8 360 L 1033.8 435 M 960 385 L 1033.8 435 L 1040 470 M 962.5 390 L 1030 437.5 M 965 440 L 982.5 447.5 L 997.5 450 L 1000 432.5 L 1015 425 L 1030 437.5 M 1002.5 435 L 1005 450 L 1023.8 460 M 1015 440 L 1016.2 455" fill="none" stroke="#999999" stroke-width="2.8"/>
<path d="M 1001.2 281.2 L 990 300 M 1055 340 L 1102.5 362.5 M 1040 347.5 L 1062.5 360" fill="none" stroke="#999999" stroke-width="2.3"/>
<ellipse cx="1046.2" cy="366.2" rx="2.2" ry="3.0" fill="none" stroke="#999999" stroke-width="2.3"/>
<ellipse cx="1058.8" cy="378.8" rx="4.5" ry="6.0" fill="none" stroke="#999999" stroke-width="2.8" transform="rotate(15 1058.8 378.8)"/>
<ellipse cx="1058.2" cy="379.2" rx="2.2" ry="3.2" fill="none" stroke="#999999" stroke-width="2.3" transform="rotate(15 1058.2 379.2)"/>
<path d="M 1061.2 373.8 L 1071.2 368.8 L 1075 375 L 1063.8 383.8 M 1075 375 L 1085 397.5 L 1081.2 380 L 1105 392.5 L 1082.5 375 M 1040 365 Q 1030 370 1030 380 L 1031.2 425 M 1071.2 385 L 1070 397.5 L 1042.5 422.5 L 1040 450 M 1066.2 383.8 L 1066.2 395 L 1038.8 420 L 1036.2 447.5" fill="none" stroke="#999999" stroke-width="2.8"/>
<path d="M 1132.5 380 L 1145 401.8 Q 1152.5 400 1160 407.5 L 1172.5 408 L 1185 418 L 1200 430 L 1212.5 438 L 1225 445.5 L 1245 460.5 Q 1251.2 466.2 1250 473.8 L 1247.5 487.5 L 1245 497.5 L 1256.2 508.8 L 1256.2 530.5 L 1232.5 539.2 L 1210 551.8 L 1193.8 556.8 L 1193.8 566.8 L 1171.2 570.5 L 1165 565 L 1135 559.2 Q 1110 553.8 1090 543.8 Q 1080 535 1075 522.5 L 1067.5 510 L 1056.2 510 L 1055 503.8 L 1060 493.8 L 1055 482.5 L 1042.5 480 L 1040 484.2 L 1025 478" fill="none" stroke="#999999" stroke-width="3.6"/>
<path d="M 1047.5 462 Q 1046.2 458.8 1050 456.2 L 1141.2 403.8 Q 1146.2 401.8 1151.2 404.5 L 1230 453.8 Q 1235 457.5 1231.2 462 L 1141.2 525 Q 1137.5 527.5 1133.8 525 Z" fill="none" stroke="#999999" stroke-width="3.6"/>
<path d="M 1076.2 453.8 L 1143.8 415 L 1200 443.8 L 1203.8 465 L 1175 487.5 L 1126.2 487.5 Z M 1143.8 415 L 1146.2 403.8 M 1200 443.8 L 1210 437.5 M 1203.8 465 L 1231.2 462" fill="none" stroke="#999999" stroke-width="2.8"/>
<ellipse cx="1151.2" cy="462.5" rx="48.8" ry="28.2" fill="none" stroke="#999999" stroke-width="3.6"/>
<path d="M 1110 468.8 Q 1120 452.5 1152.5 450 Q 1185 451.2 1193.8 470" fill="none" stroke="#999999" stroke-width="2.8"/>
<path d="M 1047.5 465 L 1051.2 475 M 1070 480 Q 1070 502.5 1077.5 515 M 1077.5 515 Q 1110 542.5 1165 545 Q 1210 540 1242.5 515 M 1073.8 520 Q 1110 547.5 1165 551.2 Q 1210 547.5 1245 521.2 M 1090 500 L 1091.2 530 M 1125 523.8 L 1126.2 542.5 M 1170 515 Q 1175 505 1185 502.5 L 1210 487.5 L 1215 490 L 1217.5 530 M 1237.5 473.8 L 1238.8 512.5 M 1245 497.5 L 1235 507.5 L 1233.8 537.5 M 1245 507.5 L 1243.8 533.8 M 1135 547.5 L 1136.2 552.5 L 1146.2 551.2 L 1146.2 546.2 M 1206.2 486.2 Q 1211.2 485 1212.5 490" fill="none" stroke="#999999" stroke-width="2.8"/>
<path d="M 1145 526.2 L 1157.5 537.5 L 1175 530 M 1150 530 L 1160 547.5 M 1180 523.8 L 1178.8 537.5 M 1165 533.8 L 1171.2 542.5" fill="none" stroke="#999999" stroke-width="2.3"/>
<ellipse cx="1175.5" cy="542.0" rx="4.0" ry="6.0" fill="none" stroke="#999999" stroke-width="2.8" transform="rotate(25 1175.5 542.0)"/>
<ellipse cx="1185.8" cy="536.2" rx="3.0" ry="5.0" fill="none" stroke="#999999" stroke-width="2.8"/>
<path d="M 1060 493.8 L 1070 497.5 L 1071.2 507.5 M 1062.5 502.5 L 1075 505" fill="none" stroke="#999999" stroke-width="2.3"/>
<text x="1304.3" y="541.5" font-size="56.5" fill="#999999" text-anchor="start">7</text>
<path d="M1305.0 518.7 L1272.0 518.7" stroke="#999999" stroke-width="3.2" fill="none"/>
<path d="M1259.0 518.7 L1274.0 510.2 L1274.0 527.2 Z" fill="#999999" stroke="none"/>
<path d="M 992 301.2 L 1035.5 324 L 1058.2 337 L 1094 366 L 1124 392 L 1138 409.5" fill="none" stroke="#999999" stroke-width="2.8"/>
<path d="M 1009 289.8 L 998.5 304.8 M 1012.2 291.8 L 1001.8 306.2" fill="none" stroke="#999999" stroke-width="2.3"/>
<path d="M 1022.2 297.2 L 1011.8 311.5 M 1025.2 299 L 1015 313.2" fill="none" stroke="#999999" stroke-width="2.3"/>
<path d="M 1035.2 304.5 L 1025.2 318.5 M 1038.5 306.5 L 1028.5 320.2" fill="none" stroke="#999999" stroke-width="2.3"/>
<path d="M 1048.5 312 L 1038.5 325.8 M 1051.8 313.8 L 1041.5 327.5" fill="none" stroke="#999999" stroke-width="2.3"/>
<path d="M 1061.5 319.5 L 1051.5 333.2 M 1064.8 321.5 L 1054.8 335" fill="none" stroke="#999999" stroke-width="2.3"/>
<path d="M 1073.8 328.5 L 1064 341.5 M 1076.5 330.8 L 1066.8 344" fill="none" stroke="#999999" stroke-width="2.3"/>
<path d="M 1085.2 338.2 L 1075.5 351 M 1088 340.8 L 1078.5 353.2" fill="none" stroke="#999999" stroke-width="2.3"/>
<path d="M 1096.8 348 L 1087.2 360.5 M 1099.5 350.5 L 1090 362.8" fill="none" stroke="#999999" stroke-width="2.3"/>
<path d="M 1108 358.2 L 1098.8 370.2 M 1110.8 360.8 L 1101.5 372.5" fill="none" stroke="#999999" stroke-width="2.3"/>
<path d="M 1119 368.8 L 1110.2 380 M 1121.5 371.2 L 1113 382.5" fill="none" stroke="#999999" stroke-width="2.3"/>
<path d="M 1129.8 379.2 L 1121.5 389.8 M 1132.2 382 L 1124.2 392.2" fill="none" stroke="#999999" stroke-width="2.3"/>
<path d="M 1138.8 391.2 L 1131.2 401.2 M 1141 394.2 L 1133.8 404" fill="none" stroke="#999999" stroke-width="2.3"/>
<path d="M 332.5 343.8 Q 337.5 335 346.2 336.2 L 353.8 340 L 352.5 350 L 358.8 348.8 L 366.2 347 L 367.5 358.8 L 375 362.5 L 376.2 368.8 L 482.5 430 L 491.2 436.2 L 471.2 540 L 462.5 543.8 L 455 540 L 351.2 477.5 L 347.5 483.8 L 340 487.5 L 336.2 482.5 L 336.2 471.2 L 332.5 465 L 328 415 L 326.2 402.5 L 330 392.5 L 327.5 380 L 331.2 357.5 Z" fill="none" stroke="#999999" stroke-width="3.6"/>
<path d="M 372.5 370 L 477.5 432.5 L 455 537.5 M 351.2 476.2 L 366.2 370 M 373 371 L 357.5 480 M 346.2 466.2 L 365 367.5 L 375 363.8 M 477.5 432.5 L 491.2 436.2 M 482.5 430 L 485 437.5 L 465 541.2 M 475 437.5 L 458.8 538.8" fill="none" stroke="#999999" stroke-width="2.8"/>
<path d="M 363 381 L 369.5 383" fill="none" stroke="#999999" stroke-width="2.3"/>
<path d="M 474.2 446.5 L 482.2 448.5" fill="none" stroke="#999999" stroke-width="2.3"/>
<path d="M 361 392.2 L 367.5 394.2" fill="none" stroke="#999999" stroke-width="2.3"/>
<path d="M 472 457.8 L 480 459.8" fill="none" stroke="#999999" stroke-width="2.3"/>
<path d="M 359.2 403.2 L 365.8 405.2" fill="none" stroke="#999999" stroke-width="2.3"/>
<path d="M 470 469.2 L 478 471.2" fill="none" stroke="#999999" stroke-width="2.3"/>
<path d="M 357.2 414.5 L 363.8 416.5" fill="none" stroke="#999999" stroke-width="2.3"/>
<path d="M 468 480.5 L 476 482.5" fill="none" stroke="#999999" stroke-width="2.3"/>
<path d="M 355.2 425.5 L 361.8 427.5" fill="none" stroke="#999999" stroke-width="2.3"/>
<path d="M 465.8 492 L 473.8 494" fill="none" stroke="#999999" stroke-width="2.3"/>
<path d="M 353.2 436.8 L 359.8 438.8" fill="none" stroke="#999999" stroke-width="2.3"/>
<path d="M 463.8 503.2 L 471.8 505.2" fill="none" stroke="#999999" stroke-width="2.3"/>
<path d="M 351.5 447.8 L 358 449.8" fill="none" stroke="#999999" stroke-width="2.3"/>
<path d="M 461.8 514.8 L 469.8 516.8" fill="none" stroke="#999999" stroke-width="2.3"/>
<path d="M 349.5 459 L 356 461" fill="none" stroke="#999999" stroke-width="2.3"/>
<path d="M 459.5 526 L 467.5 528" fill="none" stroke="#999999" stroke-width="2.3"/>
<path d="M 346.2 336.2 L 342.5 345 L 336.2 347.5 L 332.5 343.8 M 342.5 345 L 345 357.5 L 331.2 357.5 M 345 357.5 L 360 367.5 L 365 367.5 M 360 367.5 L 345 406.2 L 344.5 467.5 M 330 392.5 L 345 406.2 M 328 415 L 344.5 420 M 352.5 350 L 350 355 M 358.8 348.8 L 360 360 M 362.5 350 L 363.8 357.5 M 336.2 471.2 L 350 477.5 M 340 487.5 L 342.5 475 M 331.2 370 L 340 373.8 M 328.8 382.5 L 337.5 386.2" fill="none" stroke="#999999" stroke-width="2.3"/>
<text x="224.9" y="443.0" font-size="56.5" fill="#999999" text-anchor="start">2</text>
<text x="256.3" y="443.0" font-size="56.5" fill="#999999" text-anchor="start">3</text>
<path d="M282.5 421.7 L314.5 421.7" stroke="#999999" stroke-width="3.2" fill="none"/>
<path d="M327.5 421.7 L312.5 430.2 L312.5 413.2 Z" fill="#999999" stroke="none"/>
<path d="M 527 386.2 L 748.8 386.2 L 748.8 665 L 628.8 665 L 527 602.5 Z" fill="#f8f8f8" stroke="#999999" stroke-width="3.6" stroke-linejoin="miter"/>
<path d="M698.0 666.0 L698.0 678.0" stroke="#999999" stroke-width="3.2" fill="none"/>
<path d="M 535 477.5 L 562.5 457.5 L 662.5 523.8 L 636.2 550 Z" fill="#fff" stroke="#999999" stroke-width="2.3"/>
<path d="M 636.2 550 L 665 535.5 L 666.2 638.8 L 636.2 655.5 Z" fill="#fff" stroke="#999999" stroke-width="3.6"/>
<path d="M 535 477.5 L 535 590 L 636.2 655.5 L 636.2 550 Z" fill="#fff" stroke="#999999" stroke-width="2.3"/>
<path d="M 537.5 591.5 L 537.5 479.2 L 563.8 460.8" fill="none" stroke="#999999" stroke-width="2.8"/>
<path d="M 541.2 594 L 541.2 482 L 567.5 463.5" fill="none" stroke="#999999" stroke-width="2.8"/>
<path d="M 545 596.5 L 545 484.8 L 571.2 466.2" fill="none" stroke="#999999" stroke-width="2.8"/>
<path d="M 548.8 599 L 548.8 487.2 L 575 468.8" fill="none" stroke="#999999" stroke-width="2.8"/>
<path d="M 552.5 601.2 L 552.5 490 L 578.8 471.5" fill="none" stroke="#999999" stroke-width="2.8"/>
<path d="M 556.2 603.8 L 556.2 492.8 L 582.5 474.2" fill="none" stroke="#999999" stroke-width="2.8"/>
<path d="M 560 606.2 L 560 495.5 L 586.2 477" fill="none" stroke="#999999" stroke-width="2.8"/>
<path d="M 563.8 608.5 L 563.8 498 L 590 479.5" fill="none" stroke="#999999" stroke-width="2.8"/>
<path d="M 567.5 611 L 567.5 500.8 L 593.8 482.2" fill="none" stroke="#999999" stroke-width="2.8"/>
<path d="M 571.2 613.5 L 571.2 503.5 L 597.5 485" fill="none" stroke="#999999" stroke-width="2.8"/>
<path d="M 575 616 L 575 506.2 L 601.2 487.8" fill="none" stroke="#999999" stroke-width="2.8"/>
<path d="M 578.8 618.2 L 578.8 508.8 L 605 490.2" fill="none" stroke="#999999" stroke-width="2.8"/>
<path d="M 582.5 620.8 L 582.5 511.5 L 608.8 493" fill="none" stroke="#999999" stroke-width="2.8"/>
<path d="M 586.2 623.2 L 586.2 514.2 L 612.5 495.8" fill="none" stroke="#999999" stroke-width="2.8"/>
<path d="M 590 625.5 L 590 517 L 616.2 498.5" fill="none" stroke="#999999" stroke-width="2.8"/>
<path d="M 593.8 628 L 593.8 519.5 L 620 501" fill="none" stroke="#999999" stroke-width="2.8"/>
<path d="M 597.5 630.5 L 597.5 522.2 L 623.8 503.8" fill="none" stroke="#999999" stroke-width="2.8"/>
<path d="M 601.2 632.8 L 601.2 525 L 627.5 506.5" fill="none" stroke="#999999" stroke-width="2.8"/>
<path d="M 605 635.2 L 605 527.5 L 631.2 509" fill="none" stroke="#999999" stroke-width="2.8"/>
<path d="M 608.8 637.8 L 608.8 530.2 L 635 511.8" fill="none" stroke="#999999" stroke-width="2.8"/>
<path d="M 612.5 640.2 L 612.5 533 L 638.8 514.5" fill="none" stroke="#999999" stroke-width="2.8"/>
<path d="M 616.2 642.5 L 616.2 535.8 L 642.5 517.2" fill="none" stroke="#999999" stroke-width="2.8"/>
<path d="M 620 645 L 620 538.2 L 646.2 519.8" fill="none" stroke="#999999" stroke-width="2.8"/>
<path d="M 623.8 647.5 L 623.8 541 L 650 522.5" fill="none" stroke="#999999" stroke-width="2.8"/>
<path d="M 627.5 649.8 L 627.5 543.8 L 653.8 525.2" fill="none" stroke="#999999" stroke-width="2.8"/>
<path d="M 631.2 652.2 L 631.2 546.5 L 657.5 528" fill="none" stroke="#999999" stroke-width="2.8"/>
<path d="M 635 654.8 L 635 549 L 661.2 530.5" fill="none" stroke="#999999" stroke-width="2.8"/>
<path d="M 537.5 470 Q 532.5 475 533.8 482.5 L 535 590 L 636.2 655.5 M 537.5 470 L 562.5 455 L 572.5 452.5 M 636.2 550 L 636.2 655.5 M 660 522.5 L 665 535.5" fill="none" stroke="#999999" stroke-width="3.6"/>
<path d="M 561.2 457.5 Q 575 447.5 587.5 452.5 Q 592.5 455 596.2 462.5 L 610 488.8 M 568.8 456.2 Q 575 452.5 583.8 457.5 L 602.5 487.5 M 567.5 455 L 575 465" fill="none" stroke="#999999" stroke-width="3.6"/>
<path d="M 641.2 558 L 660 548.8 L 661.2 633 L 642.5 643 Z" fill="none" stroke="#999999" stroke-width="2.3"/>
<path d="M 655 520 Q 655 508.8 665 508 L 676.2 508.8 Q 681.2 512.5 678.8 518.8 L 672.5 526.2 Q 667.5 530 662.5 526.2 Z M 662.5 515 L 672.5 512.5 M 663.8 521.2 L 673.8 518.8" fill="none" stroke="#999999" stroke-width="3.6"/>
<ellipse cx="672.5" cy="516.2" rx="3.5" ry="5.0" fill="none" stroke="#999999" stroke-width="2.8" transform="rotate(-20 672.5 516.2)"/>
<path d="M 705 495 L 717.5 487.5 L 737.5 495 L 736.2 530 L 717.5 545 L 705 537.5 Z" fill="#fff" stroke="#999999" stroke-width="3.6"/>
<path d="M 705 495 L 717.5 502.5 L 717.5 545 M 717.5 502.5 L 737.5 495" fill="none" stroke="#999999" stroke-width="2.8"/>
<ellipse cx="722.5" cy="491.8" rx="12.5" ry="6.5" fill="#fff" stroke="#999999" stroke-width="3.6"/>
<ellipse cx="721.2" cy="489.0" rx="5.5" ry="2.5" fill="none" stroke="#999999" stroke-width="2.3"/>
<ellipse cx="712.5" cy="509.0" rx="4.2" ry="5.5" fill="none" stroke="#999999" stroke-width="2.8"/>
<ellipse cx="712.5" cy="526.5" rx="3.2" ry="4.2" fill="none" stroke="#999999" stroke-width="2.8"/>
<ellipse cx="693.0" cy="522.5" rx="7.2" ry="9.5" fill="none" stroke="#999999" stroke-width="3.6" transform="rotate(-30 693.0 522.5)"/>
<ellipse cx="693.0" cy="548.0" rx="7.0" ry="9.0" fill="none" stroke="#999999" stroke-width="3.6" transform="rotate(-30 693.0 548.0)"/>
<path d="M699.77 436.00 L704.87 436.00 L704.87 396.50 L701.47 396.50 Q699.67 403.00 691.07 403.80 L691.07 407.40 L699.77 407.40 Z" fill="#999999" stroke="none"/>
<text x="714.9" y="436.0" font-size="56.5" fill="#999999" text-anchor="start">6</text>
<path d="M708.7 440.0 L714.6 471.2" stroke="#999999" stroke-width="3.2" fill="none"/>
<path d="M717.0 484.0 L705.9 470.8 L722.6 467.7 Z" fill="#999999" stroke="none"/>
<path d="M637.45 484.20 L642.55 484.20 L642.55 444.70 L639.15 444.70 Q637.35 451.20 628.75 452.00 L628.75 455.60 L637.45 455.60 Z" fill="#999999" stroke="none"/>
<text x="652.6" y="484.2" font-size="56.5" fill="#999999" text-anchor="start">7</text>
<path d="M672.5 463.7 L680 468.7 L688 500" fill="none" stroke="#999" stroke-width="3.2"/>
<path d="M686.0 492.0 L688.0 499.9" stroke="#999999" stroke-width="3.2" fill="none"/>
<path d="M691.2 512.5 L679.3 500.1 L695.8 495.9 Z" fill="#999999" stroke="none"/>
<path d="M686.06 650.50 L691.16 650.50 L691.16 611.00 L687.76 611.00 Q685.96 617.50 677.36 618.30 L677.36 621.90 L686.06 621.90 Z" fill="#999999" stroke="none"/>
<text x="701.2" y="650.5" font-size="56.5" fill="#999999" text-anchor="start">8</text>
<path d="M695.0 602.5 L695.0 570.5" stroke="#999999" stroke-width="3.2" fill="none"/>
<path d="M695.0 557.5 L703.5 572.5 L686.5 572.5 Z" fill="#999999" stroke="none"/>
<path d="M771.17 619.20 L776.27 619.20 L776.27 579.70 L772.87 579.70 Q771.07 586.20 762.47 587.00 L762.47 590.60 L771.17 590.60 Z" fill="#999999" stroke="none"/>
<text x="786.3" y="619.2" font-size="56.5" fill="#999999" text-anchor="start">9</text>
<path d="M783.2 570.0 L783.2 538.0" stroke="#999999" stroke-width="3.2" fill="none"/>
<path d="M783.2 525.0 L791.7 540.0 L774.7 540.0 Z" fill="#999999" stroke="none"/>
<path d="M 760 470 Q 762.5 456.2 777.5 456.2 Q 795 458.8 797.5 475 L 798 502.5 Q 795 520 780 521.2 Q 765 520 757.5 510 L 755.5 480 Z" fill="none" stroke="#999999" stroke-width="3.6"/>
<path d="M 760 470 L 760 508.8 M 765 466.2 Q 768.8 460 777.5 461.2 M 760 481.2 L 771.2 487.5 L 772.5 517.5 M 771.2 487.5 L 777.5 483.8 L 777.5 475 L 766.2 470 M 777.5 483.8 L 778.8 515 M 791.2 465 Q 795 490 791.2 515 M 760 470 L 766.2 470" fill="none" stroke="#999999" stroke-width="2.8"/>
<ellipse cx="764.5" cy="493.0" rx="4.2" ry="4.8" fill="none" stroke="#999999" stroke-width="2.8"/>
<ellipse cx="764.5" cy="506.8" rx="4.2" ry="4.8" fill="none" stroke="#999999" stroke-width="2.8"/>
<path d="M 124.5 531.2 L 166.2 510.5 L 176.2 514.5 L 181.2 510 L 187.5 510.5 L 190 518.8 L 186.2 526.2 L 188.8 532.5 L 188.8 542.5 L 178.8 551.2 L 177.5 556.2 L 163.8 570 L 150 573 L 135 588.8 L 127.5 590 L 124.5 585 L 127.5 578.8 L 136.2 568.8 L 128.8 567.5 L 127.5 545 L 124.5 542.5 Z" fill="none" stroke="#999999" stroke-width="3.6"/>
<path d="M 150 545 L 177.5 530 L 178.8 533.8 L 185 530 M 150 545 L 148.8 565 L 150 573 M 136.2 568.8 L 143.8 564.5 L 145 567.5 L 132.5 585" fill="none" stroke="#999999" stroke-width="2.8"/>
<ellipse cx="145.0" cy="545.5" rx="2.0" ry="3.5" fill="none" stroke="#999999" stroke-width="2.8"/>
<ellipse cx="158.2" cy="561.2" rx="4.2" ry="6.2" fill="none" stroke="#999999" stroke-width="2.8" transform="rotate(15 158.2 561.2)"/>
<ellipse cx="184.5" cy="518.8" rx="2.5" ry="3.0" fill="none" stroke="#999999" stroke-width="2.8"/>
<text x="133.8" y="464.2" font-size="56.5" fill="#999999" text-anchor="start">4</text>
<path d="M152.5 472.0 L152.5 503.5" stroke="#999999" stroke-width="3.2" fill="none"/>
<path d="M152.5 516.5 L144.0 501.5 L161.0 501.5 Z" fill="#999999" stroke="none"/>
<path d="M 106.2 691.2 L 116.2 695 L 128.8 681.2 Q 136.2 676.2 141.2 683.8 Q 142.5 691.2 136.2 697.5 L 127.5 706.2 L 131.2 711.2 L 145 709.5 Q 153.8 710 153.8 716.2 Q 151.2 723.8 142.5 725 L 136.2 725 L 135 730 L 101.2 760 L 100 770 Q 96.2 775 91.2 771.2 Q 88.8 765 92.5 755 L 90 751.2 L 81.2 756.2 L 66.2 741.2 L 73.8 730 L 80 722.5 L 85 711.2 Z" fill="none" stroke="#999999" stroke-width="3.6"/>
<path d="M 116.2 695 L 127.5 706.2 L 135 730 M 85 711.2 L 96.2 717.5 L 116.2 698.8 M 96.2 717.5 L 83.8 730 L 73.8 730 M 83.8 730 L 87.5 751.2 M 127.5 715 L 132.5 725 M 93.8 752.5 L 96.2 760 L 100 760 M 66.2 741.2 L 77.5 738.8 L 85 747.5 M 122.5 686.2 Q 126.2 682.5 131.2 682.5 M 131.2 713.8 Q 140 712.5 147.5 712" fill="none" stroke="#999999" stroke-width="2.8"/>
<ellipse cx="113.8" cy="717.5" rx="7.5" ry="8.5" fill="none" stroke="#999999" stroke-width="2.8" transform="rotate(20 113.8 717.5)"/>
<ellipse cx="115.0" cy="717.5" rx="3.8" ry="4.5" fill="none" stroke="#999999" stroke-width="2.8" transform="rotate(20 115.0 717.5)"/>
<ellipse cx="133.8" cy="688.8" rx="2.5" ry="3.2" fill="none" stroke="#999999" stroke-width="2.8" transform="rotate(30 133.8 688.8)"/>
<ellipse cx="146.2" cy="717.0" rx="2.5" ry="3.0" fill="none" stroke="#999999" stroke-width="2.8"/>
<ellipse cx="97.0" cy="765.0" rx="2.0" ry="4.0" fill="none" stroke="#999999" stroke-width="2.8" transform="rotate(10 97.0 765.0)"/>
<path d="M 128.2 940 L 138.2 943.7 L 150.8 930 Q 158.2 925 163.2 932.5 Q 164.5 940 158.2 946.2 L 149.5 955 L 153.2 960 L 167 958.2 Q 175.8 958.7 175.8 965 Q 173.2 972.5 164.5 973.7 L 158.2 973.7 L 157 978.7 L 123.2 1008.7 L 122 1018.7 Q 118.2 1023.7 113.2 1020 Q 110.8 1013.7 114.5 1003.7 L 112 1000 L 103.2 1005 L 88.2 990 L 95.8 978.7 L 102 971.2 L 107 960 Z" fill="none" stroke="#999999" stroke-width="3.6"/>
<path d="M 138.2 943.7 L 149.5 955 L 157 978.7 M 107 960 L 118.2 966.2 L 138.2 947.5 M 118.2 966.2 L 105.8 978.7 L 95.8 978.7 M 105.8 978.7 L 109.5 1000 M 149.5 963.7 L 154.5 973.7 M 115.8 1001.2 L 118.2 1008.7 L 122 1008.7 M 88.2 990 L 99.5 987.5 L 107 996.2 M 144.5 935 Q 148.2 931.2 153.2 931.2 M 153.2 962.5 Q 162 961.2 169.5 960.7" fill="none" stroke="#999999" stroke-width="2.8"/>
<ellipse cx="135.8" cy="966.2" rx="7.5" ry="8.5" fill="none" stroke="#999999" stroke-width="2.8" transform="rotate(20 135.8 966.2)"/>
<ellipse cx="137.0" cy="966.2" rx="3.8" ry="4.5" fill="none" stroke="#999999" stroke-width="2.8" transform="rotate(20 137.0 966.2)"/>
<ellipse cx="155.8" cy="937.5" rx="2.5" ry="3.2" fill="none" stroke="#999999" stroke-width="2.8" transform="rotate(30 155.8 937.5)"/>
<ellipse cx="168.2" cy="965.7" rx="2.5" ry="3.0" fill="none" stroke="#999999" stroke-width="2.8"/>
<ellipse cx="119.0" cy="1013.7" rx="2.0" ry="4.0" fill="none" stroke="#999999" stroke-width="2.8" transform="rotate(10 119.0 1013.7)"/>
<text x="92.0" y="637.5" font-size="56.5" fill="#999999" text-anchor="start">3</text>
<path d="M105.5 645.0 L105.5 677.0" stroke="#999999" stroke-width="3.2" fill="none"/>
<path d="M105.5 690.0 L97.0 675.0 L114.0 675.0 Z" fill="#999999" stroke="none"/>
<text x="115.2" y="888.5" font-size="56.5" fill="#999999" text-anchor="start">5</text>
<path d="M127.5 896.2 L127.5 927.0" stroke="#999999" stroke-width="3.2" fill="none"/>
<path d="M127.5 940.0 L119.0 925.0 L136.0 925.0 Z" fill="#999999" stroke="none"/>
<path d="M 175 615 L 331.2 615 L 331.2 762.5 L 231.2 832.5 L 175 832.5 Z" fill="#f8f8f8" stroke="#999999" stroke-width="3.6" stroke-linejoin="miter"/>
<text x="232.3" y="590.5" font-size="56.5" fill="#999999" text-anchor="start">2</text>
<text x="263.8" y="590.5" font-size="56.5" fill="#999999" text-anchor="start">7</text>
<path d="M258.7 597.0 L258.7 614.0" stroke="#999999" stroke-width="3.2" fill="none"/>
<path d="M 227.5 637.5 Q 227.5 628.8 235 629.5 Q 241.2 631.2 240 640 L 238.8 646.2 L 273.8 683.8 Q 276.2 690 273.8 696.2 Q 270 702.5 263.8 700 Q 258.8 697.5 257.5 691.2 L 230 657.5 Q 226.2 650 227.5 637.5 Z" fill="#f8f8f8" stroke="#999999" stroke-width="3.6"/>
<path d="M 232.5 645 L 235 653.8 L 262.5 687.5" fill="none" stroke="#999999" stroke-width="2.8"/>
<ellipse cx="235.5" cy="637.0" rx="2.0" ry="2.5" fill="none" stroke="#999999" stroke-width="2.8"/>
<ellipse cx="268.0" cy="695.0" rx="2.2" ry="2.8" fill="none" stroke="#999999" stroke-width="2.8"/>
<path d="M 193.8 682.5 Q 200 675 215 675 L 226.2 676.2 Q 232.5 680 230 686.2 L 225 691.2 L 202.5 698.8 Q 195 698.8 193 692.5 Z" fill="#f8f8f8" stroke="#999999" stroke-width="3.6"/>
<path d="M 198 681.2 Q 201.2 690 200 697" fill="none" stroke="#999999" stroke-width="2.8"/>
<ellipse cx="208.8" cy="689.5" rx="3.0" ry="3.5" fill="none" stroke="#999999" stroke-width="2.8"/>
<ellipse cx="224.5" cy="685.0" rx="3.0" ry="3.5" fill="none" stroke="#999999" stroke-width="2.8"/>
<path d="M 200 735 Q 202.5 728.8 210 727.5 L 221.2 715 Q 227.5 711.2 232.5 716.2 Q 236.2 722.5 231.2 727.5 L 220 745 Q 212.5 750 205 748.8 Q 197.5 745 200 735 Z" fill="#f8f8f8" stroke="#999999" stroke-width="3.6"/>
<ellipse cx="228.8" cy="723.0" rx="2.5" ry="3.0" fill="none" stroke="#999999" stroke-width="2.8"/>
<ellipse cx="208.0" cy="741.2" rx="3.0" ry="3.8" fill="none" stroke="#999999" stroke-width="2.8"/>
<ellipse cx="214.5" cy="741.8" rx="3.0" ry="3.8" fill="none" stroke="#999999" stroke-width="2.8"/>
<path d="M 212.5 731.2 L 223.8 718.8" fill="none" stroke="#999999" stroke-width="2.8"/>
<path d="M 288.8 692.5 Q 292.5 688.8 297.5 691.2 Q 305 691.2 306.2 698.8 Q 305 705 300 707.5 L 298.8 715 L 325 735 Q 328.8 740 325 745 L 317.5 743.8 L 286.2 725 Q 282.5 720 283.8 713.8 L 291.2 698.8 Z" fill="#f8f8f8" stroke="#999999" stroke-width="3.6"/>
<ellipse cx="300.5" cy="697.0" rx="2.5" ry="3.0" fill="none" stroke="#999999" stroke-width="2.8"/>
<ellipse cx="323.2" cy="739.2" rx="2.0" ry="2.5" fill="none" stroke="#999999" stroke-width="2.8"/>
<path d="M 293.8 700 L 288 715 L 290 722 L 317.5 740" fill="none" stroke="#999999" stroke-width="2.8"/>
<path d="M 192.5 776.2 Q 200 771.2 207.5 776.2 Q 230 775 252.5 760 L 277.5 740 Q 286.2 735 291.2 740 Q 295 747.5 288.8 752.5 L 280 752.5 Q 255 775 230 785 Q 215 790 200 790 Q 191.2 787.5 190.8 781.2 Z" fill="#f8f8f8" stroke="#999999" stroke-width="3.6"/>
<ellipse cx="201.2" cy="783.0" rx="3.2" ry="3.8" fill="none" stroke="#999999" stroke-width="2.8"/>
<ellipse cx="286.2" cy="745.0" rx="3.0" ry="3.5" fill="none" stroke="#999999" stroke-width="2.8"/>
<path d="M 210 782 Q 230 779.5 255 763 L 276.2 747" fill="none" stroke="#999999" stroke-width="2.8"/>
<path d="M 196.2 802.5 Q 200 795 210 796.2 L 230 810 Q 232.5 816.2 227.5 821.2 L 215 822.5 Q 202.5 820 197.5 813.8 Z" fill="#f8f8f8" stroke="#999999" stroke-width="3.6"/>
<ellipse cx="211.2" cy="808.8" rx="3.0" ry="3.5" fill="none" stroke="#999999" stroke-width="2.8"/>
<ellipse cx="224.5" cy="815.0" rx="3.0" ry="3.5" fill="none" stroke="#999999" stroke-width="2.8"/>
<path d="M 200 803.8 Q 202.5 812.5 215 818.8" fill="none" stroke="#999999" stroke-width="2.8"/>
<path d="M 228.8 904.5 L 315 904.5 L 315 1089.5 L 178.2 1089.5 L 178.2 1006.2 Z" fill="#f8f8f8" stroke="#999999" stroke-width="3.6" stroke-linejoin="miter"/>
<text x="240.3" y="881.7" font-size="56.5" fill="#999999" text-anchor="start">2</text>
<text x="271.8" y="881.7" font-size="56.5" fill="#999999" text-anchor="start">7</text>
<path d="M269.2 888.0 L269.2 904.0" stroke="#999999" stroke-width="3.2" fill="none"/>
<path d="M 281.2 925 Q 283.8 917.5 291.2 918.8 Q 297.5 922.5 295.5 930 L 290 935 L 286.2 942.5 L 277.5 995 Q 273.8 1001.2 267.5 998.8 Q 263.8 995 265 987.5 L 271.2 942.5 L 280 935 Z" fill="#f8f8f8" stroke="#999999" stroke-width="3.6"/>
<ellipse cx="291.2" cy="926.2" rx="2.5" ry="3.0" fill="none" stroke="#999999" stroke-width="2.8"/>
<ellipse cx="272.5" cy="993.8" rx="2.5" ry="2.8" fill="none" stroke="#999999" stroke-width="2.8"/>
<path d="M 276.2 945 L 270 987.5" fill="none" stroke="#999999" stroke-width="2.8"/>
<ellipse cx="200.0" cy="1008.0" rx="11.2" ry="13.2" fill="#f8f8f8" stroke="#999999" stroke-width="3.6" transform="rotate(-20 200.0 1008.0)"/>
<ellipse cx="202.5" cy="1007.0" rx="6.2" ry="8.0" fill="none" stroke="#999999" stroke-width="2.8" transform="rotate(-20 202.5 1007.0)"/>
<path d="M 203.8 1003.8 L 212.5 1007 L 213 1017.5 L 205 1016.2" fill="#f8f8f8" stroke="#999999" stroke-width="2.8"/>
<ellipse cx="238.8" cy="1028.8" rx="22.5" ry="27.5" fill="#f8f8f8" stroke="#999999" stroke-width="3.6" transform="rotate(22 238.8 1028.8)"/>
<ellipse cx="241.2" cy="1028.0" rx="18.5" ry="23.8" fill="none" stroke="#999999" stroke-width="2.8" transform="rotate(22 241.2 1028.0)"/>
<ellipse cx="243.0" cy="1032.0" rx="7.5" ry="9.0" fill="none" stroke="#999999" stroke-width="2.8" transform="rotate(20 243.0 1032.0)"/>
<path d="M 240 1025 L 248.8 1027.5 L 249.5 1037.5 L 241.2 1036.2 Z M 232.5 1015 Q 237.5 1032.5 230 1045 L 231.2 1050" fill="#f8f8f8" stroke="#999999" stroke-width="2.8"/>
<ellipse cx="281.2" cy="1052.5" rx="23.0" ry="27.5" fill="#f8f8f8" stroke="#999999" stroke-width="3.6" transform="rotate(22 281.2 1052.5)"/>
<ellipse cx="283.0" cy="1052.0" rx="19.0" ry="24.0" fill="none" stroke="#999999" stroke-width="2.8" transform="rotate(22 283.0 1052.0)"/>
<path d="M 280 1040 Q 290 1037.5 292.5 1045 L 290 1052.5 L 280 1060 L 275 1070 L 268.8 1067.5 L 267.5 1055 Z M 281.2 1051.2 L 293.8 1056.2 L 294.5 1062.5 L 282.5 1058.8 Z" fill="#f8f8f8" stroke="#999999" stroke-width="2.8"/>
<ellipse cx="294.5" cy="1059.5" rx="2.0" ry="3.0" fill="none" stroke="#999999" stroke-width="2.8"/>
<path d="M 220.8 1041.5 L 224 1040.8" fill="none" stroke="#999999" stroke-width="2.3"/>
<path d="M 219.2 1038 L 222.5 1037.2" fill="none" stroke="#999999" stroke-width="2.3"/>
<path d="M 218.2 1034 L 221.5 1033.2" fill="none" stroke="#999999" stroke-width="2.3"/>
<path d="M 217.8 1030 L 221 1029.2" fill="none" stroke="#999999" stroke-width="2.3"/>
<path d="M 218 1026 L 221.2 1025.2" fill="none" stroke="#999999" stroke-width="2.3"/>
<path d="M 218.5 1022 L 221.8 1021.2" fill="none" stroke="#999999" stroke-width="2.3"/>
<path d="M 219.8 1018.2 L 223 1017.5" fill="none" stroke="#999999" stroke-width="2.3"/>
<path d="M 221.2 1014.8 L 224.5 1014" fill="none" stroke="#999999" stroke-width="2.3"/>
<path d="M 223.2 1011.5 L 226.5 1010.8" fill="none" stroke="#999999" stroke-width="2.3"/>
<path d="M 225.5 1008.8 L 228.8 1008" fill="none" stroke="#999999" stroke-width="2.3"/>
<path d="M 228.2 1006.5 L 231.5 1005.8" fill="none" stroke="#999999" stroke-width="2.3"/>
<path d="M 231.2 1004.8 L 234.5 1004" fill="none" stroke="#999999" stroke-width="2.3"/>
<path d="M 234.5 1003.8 L 237.8 1003" fill="none" stroke="#999999" stroke-width="2.3"/>
<path d="M 237.8 1003.2 L 241 1002.5" fill="none" stroke="#999999" stroke-width="2.3"/>
<path d="M 459.5 595.5 L 471.2 589.5 L 582.5 656.2 L 587.5 776.2 L 575 785.5 L 463.8 718.8 Q 461.2 715 461.8 710 Z" fill="none" stroke="#999999" stroke-width="3.6"/>
<path d="M 470 603.8 L 571.2 666.2 L 576.2 771.2 L 475 710 Z M 459.5 595.5 L 470 603.8 M 571.2 666.2 L 582.5 656.2 M 576.2 771.2 L 575 785.5 M 576.2 771.2 L 587.5 776.2 M 463.8 718.8 L 475 710" fill="none" stroke="#999999" stroke-width="2.8"/>
<path d="M374.71 641.20 L379.81 641.20 L379.81 601.70 L376.41 601.70 Q374.61 608.20 366.01 609.00 L366.01 612.60 L374.71 612.60 Z" fill="#999999" stroke="none"/>
<text x="389.8" y="641.2" font-size="56.5" fill="#999999" text-anchor="start">5</text>
<path d="M417.5 623.0 L446.5 623.0" stroke="#999999" stroke-width="3.2" fill="none"/>
<path d="M459.5 623.0 L444.5 631.5 L444.5 614.5 Z" fill="#999999" stroke="none"/>
<path d="M681.86 725.50 L686.96 725.50 L686.96 686.00 L683.56 686.00 Q681.76 692.50 673.16 693.30 L673.16 696.90 L681.86 696.90 Z" fill="#999999" stroke="none"/>
<text x="697.0" y="725.5" font-size="56.5" fill="#999999" text-anchor="start">4</text>
<text x="398.4" y="732.5" font-size="56.5" fill="#999999" text-anchor="start">8</text>
<path d="M411.2 738.0 L411.2 770.0" stroke="#999999" stroke-width="3.2" fill="none"/>
<path d="M411.2 783.0 L402.7 768.0 L419.7 768.0 Z" fill="#999999" stroke="none"/>
<path d="M 628.8 797 L 638.8 792 L 676.2 813.8 L 680 811.2 L 686.2 813.8 L 690 816.2 L 707.5 811.2 L 716.2 815 L 717 838.8 L 700 846.2 L 688.8 845 L 683.8 837.5 L 677.5 827.5 L 675 823.8 L 630 802.5 Z" fill="none" stroke="#999999" stroke-width="3.6"/>
<path d="M 630 798 L 675 819.5 L 676.2 813.8 M 690 816.2 L 688.8 845 M 690 816.2 L 700 821.2 L 716.2 815 M 700 821.2 L 700 846.2 M 675 819.5 Q 680 820 683.8 837.5 M 707.5 811.2 L 707.5 817.5 M 680 811.2 Q 683.8 820 690 825 M 647.5 800 Q 650 803.8 653.8 802.5 M 663.8 809.5 Q 666.2 812.5 670 811.2" fill="none" stroke="#999999" stroke-width="2.8"/>
<text x="607.7" y="914.2" font-size="56.5" fill="#999999" text-anchor="start">2</text>
<text x="639.1" y="914.2" font-size="56.5" fill="#999999" text-anchor="start">5</text>
<path d="M645.5 866.2 L658.3 838.3" stroke="#999999" stroke-width="3.2" fill="none"/>
<path d="M663.7 826.5 L665.2 843.7 L649.7 836.6 Z" fill="#999999" stroke="none"/>
<path d="M 369.5 820 L 477.5 882.8 Q 481 884.8 484.5 883 L 548.2 849.2 Q 551.8 847.5 548.2 845.5 L 440.2 782.5 Q 437 780.8 433.5 782.5 L 369.8 816.2 Q 366.2 818 369.5 820 Z" fill="#fff" stroke="#999999" stroke-width="3.6"/>
<path d="M 415.5 799.5 L 516.8 858.5 Q 520 860.5 523.5 858.5 L 541.8 849 Q 545.2 847.2 541.8 845.2 L 440.5 786.2 Q 437.2 784.2 433.8 786 L 415.5 795.8 Q 412 797.5 415.5 799.5 Z" fill="none" stroke="#999999" stroke-width="2.8"/>
<path d="M 422 796 L 523.2 855 M 428 793 L 529.2 851.8 M 438.2 792.5 L 535 848.8 M 462.8 827 L 487.8 813.8" fill="none" stroke="#999999" stroke-width="2.8"/>
<path d="M 438.2 773.8 L 539.2 831.2 Q 543.8 833.8 547.8 830.8 L 568.5 814.2 Q 572.5 811.2 568 808.8 L 467 751.2 Q 462.5 748.8 458.5 751.8 L 437.8 768.2 Q 433.8 771.2 438.2 773.8 Z" fill="#fff" stroke="#999999" stroke-width="3.6"/>
<path d="M 443.8 772.2 L 540.5 827.2 Q 544 829.2 547 826.8 L 562.8 814.5 Q 565.8 812 562.5 810.2 L 465.8 755.2 Q 462.2 753.2 459.2 755.8 L 443.5 768 Q 440.5 770.5 443.8 772.2 Z" fill="none" stroke="#999999" stroke-width="2.8"/>
<path d="M 457.2 769 L 510.2 799 Q 513.5 801 516.5 798.8 L 516.8 798.5 Q 519.8 796 516.5 794.2 L 463.8 764.2 Q 460.5 762.2 457.5 764.8 L 457 765 Q 454 767.2 457.2 769 Z" fill="none" stroke="#999999" stroke-width="2.8"/>
<path d="M 446.2 777.5 L 542.5 831.2 M 450 769.5 L 470 780 M 460 763.8 L 560 820 M 485 802.5 L 535 830 M 495 803.8 L 500 796.2 L 550 823.8" fill="none" stroke="#999999" stroke-width="2.8"/>
<path d="M 490 800 Q 495 785 507.5 783.8 Q 516.2 785 516.2 793.8 M 496.2 801.2 Q 500 790 508.8 788.8 Q 512 790 512 796.2" fill="none" stroke="#999999" stroke-width="3.6"/>
<path d="M 572.5 815 L 572.5 823.8 L 551.2 830.5 L 550 836.2 M 433.8 771.2 L 433.8 777.5 L 415 785 L 396.2 786.2" fill="none" stroke="#999999" stroke-width="3.6"/>
<path d="M 370.8 820.5 L 474.2 881 Q 478.8 883.5 483.2 881 L 513.5 865.2 Q 518 862.8 513.5 860.2 L 410 799.8 Q 405.5 797.2 401 799.8 L 370.8 815.5 Q 366.2 818 370.8 820.5 Z" fill="#fff" stroke="#999999" stroke-width="3.6"/>
<path d="M 375.2 820.2 L 475.2 878.5 Q 478.8 880.5 482.2 878.5 L 509 864.5 Q 512.5 862.5 509 860.5 L 409 802.2 Q 405.5 800.2 402 802.2 L 375.2 816.2 Q 371.8 818.2 375.2 820.2 Z" fill="none" stroke="#999999" stroke-width="2.8"/>
<path d="M 385 822 L 403 832.2 Q 408.5 835.8 414.2 832.5 L 430.2 824.2 Q 436 821 430.5 817.8 L 412.5 807.2 Q 406.8 804 401 807.2 L 385 815.5 Q 379.2 818.5 385 822 Z" fill="none" stroke="#999999" stroke-width="3.6"/>
<path d="M 400.8 811 L 424.2 824.8 M 396.2 815.8 L 416.5 827.8" fill="none" stroke="#999999" stroke-width="2.8"/>
<path d="M 387 817 L 396 822.2 L 405.5 823.5 L 414.2 830.2" fill="none" stroke="#999999" stroke-width="2.8"/>
<ellipse cx="403.9" cy="809.4" rx="1.8" ry="2.5" fill="none" stroke="#999999" stroke-width="2.8"/>
<path d="M 421 842.8 L 440 854 Q 445.8 857.2 451.5 854.2 L 467.5 845.8 Q 473.2 842.8 467.5 839.5 L 448.5 828.2 Q 442.8 825 437 828 L 421 836.5 Q 415.2 839.5 421 842.8 Z" fill="none" stroke="#999999" stroke-width="3.6"/>
<path d="M 436.8 832 L 461.5 846.5 M 432.2 836.8 L 453.8 849.2" fill="none" stroke="#999999" stroke-width="2.8"/>
<path d="M 423 838 L 432.5 843.5 L 442.2 844.8 L 451.2 851.8" fill="none" stroke="#999999" stroke-width="2.8"/>
<ellipse cx="439.9" cy="830.3" rx="1.8" ry="2.5" fill="none" stroke="#999999" stroke-width="2.8"/>
<path d="M 458 864.5 L 473.8 873.8 Q 479.5 877 485.2 873.8 L 501.2 865.5 Q 507 862.5 501.2 859 L 485.5 850 Q 480 846.8 474.2 849.8 L 458.2 858.2 Q 452.5 861.2 458 864.5 Z" fill="none" stroke="#999999" stroke-width="3.6"/>
<path d="M 473.8 853.5 L 495.2 866 M 469.5 858.5 L 487.5 869" fill="none" stroke="#999999" stroke-width="2.8"/>
<path d="M 460.2 859.5 L 468 864.2 L 477.5 865.5 L 485 871.5" fill="none" stroke="#999999" stroke-width="2.8"/>
<ellipse cx="477.0" cy="851.9" rx="1.8" ry="2.5" fill="none" stroke="#999999" stroke-width="2.8"/>
<path d="M 396.2 786.2 L 383 781.2 Q 376.2 781.2 377 787.5 L 385 800 M 385 790 L 395 793.8 L 400 790 M 392.5 793.8 L 397.5 798.8" fill="none" stroke="#999999" stroke-width="3.6"/>
<path d="M 485 880 Q 488.8 882 491.2 878 L 527.5 840.5 L 536.2 841.2 L 550 836.2 M 465 815 L 472.5 810 L 475 822.5 L 485 812.5 L 485 825 M 415 785 L 417.5 791.2 L 427.5 790 L 435 793.8 L 435 777.5" fill="none" stroke="#999999" stroke-width="3.6"/>
<ellipse cx="563.8" cy="841.2" rx="5.5" ry="5.5" fill="none" stroke="#999999" stroke-width="3.6"/>
<ellipse cx="564.5" cy="841.2" rx="2.5" ry="2.8" fill="none" stroke="#999999" stroke-width="2.8"/>
<path d="M 550 836.2 L 560 836.2 M 551.2 846.2 L 561.2 847" fill="none" stroke="#999999" stroke-width="2.8"/>
<ellipse cx="502.5" cy="886.2" rx="6.0" ry="7.0" fill="none" stroke="#999999" stroke-width="3.6"/>
<ellipse cx="503.2" cy="886.2" rx="2.8" ry="3.5" fill="none" stroke="#999999" stroke-width="2.8"/>
<path d="M 491.2 880 L 500 879.5 M 490 890 L 498.8 893 M 491.2 880 L 490 890" fill="none" stroke="#999999" stroke-width="3.6"/>
<path d="M 347.5 835 L 330 860 L 330 882.5 L 337.5 886.2 L 350 957.5 L 363.8 992.5 M 560 847.5 Q 575 860 577.5 870 L 582.5 895 L 596.2 921.2 L 580 937.5 L 545 946.2" fill="none" stroke="#999999" stroke-width="3.6"/>
<path d="M 347.5 835 L 367.5 825 M 342.5 890 L 360 990 M 345 870 L 450 925 L 470 887.5 M 385 847.5 L 375 965 L 382.5 972.5 M 392.5 850 L 397.5 857.5 L 382.5 965 M 420 862.5 L 427.5 870 L 410 915 L 407.5 965 M 432.5 867.5 L 430 915 L 420 975 M 445 915 L 430 995 M 450 925 L 485 935 L 490 950 L 505 947.5 M 470 887.5 L 475 895 L 465 920 L 472.5 927.5 L 485 915 L 500 920 L 507.5 935 L 540 900 L 542.5 890 L 535 891.2 L 536.2 900 M 505 947.5 L 547.5 902.5 L 550 887.5 L 560 915 L 580 890 M 560 915 L 565 932.5 L 580 937.5 M 575 920 L 585 918 L 585 922.5 L 575 924.5 Z M 527.5 860 L 535 847.5 L 545 862.5 L 547.5 847.5 M 525 865 L 532.5 860 M 350 957.5 L 377.5 965 L 382.5 972.5 L 392.5 970 M 395 965 L 397.5 960 L 420 965 L 422.5 975 L 400 977.5 Z M 330 860 L 345 855 L 347.5 870 L 335 875 M 347.5 835 L 355 840 L 352.5 852.5 M 410 915 L 417.5 920 L 415 930 L 408.8 927.5" fill="none" stroke="#999999" stroke-width="2.8"/>
<path d="M 363.8 992.5 L 340 1032.5 L 370 1048.8 L 420 1080 L 448.8 1078.8 L 460 1045 L 490 1068.8 L 517.5 1066.2 L 525 1061.2 L 528.8 1051.2 L 521.2 1047.5 L 522.5 1025 L 535 1012.5 L 542.5 990 L 552.5 988.8 L 546.2 980 L 545 946.2" fill="none" stroke="#999999" stroke-width="3.6"/>
<path d="M 363.8 992.5 L 375 980 L 405 990 L 420 995 L 430 1005 L 450 1012.5 L 490 950 L 502.5 940 L 517.5 940 M 342.5 1032.5 L 355 1007.5 L 367.5 997.5 L 395 1007.5 L 370 1025 L 368.8 1040 L 375 1037.5 L 376.2 1027.5 L 402.5 1012.5 L 410 995 M 370 1048.8 L 372.5 1037.5 M 395 1057.5 L 405 1015 L 420 995 M 410 1060 L 427.5 1015 M 412.5 1047.5 L 420 1040 L 427.5 1042.5 L 425 1052.5 M 430 1005 L 445 1010 L 445 1015 L 435 1015 L 427.5 1010 M 427.5 1020 L 417.5 1040 M 445 1020 L 435 1040 L 450 1047.5 L 460 1045 M 450 1012.5 L 495 952.5 M 460 1015 L 502.5 950 M 480 1060 L 485 1000 L 500 950 M 490 1062.5 L 495 1000 L 507.5 955 M 495 1065 L 500 1002.5 L 510 960 M 510 960 L 522.5 965 L 517.5 970 M 505 987.5 L 515 992.5 L 512.5 997.5 M 517.5 940 L 522.5 952.5 L 530 950 L 527.5 940 M 535 945 L 532.5 975 L 545 980 M 540 947.5 L 538.8 972.5 M 525 1020 L 530 1015 L 532.5 1002.5 L 540 1000 M 460 1045 L 457.5 1055 L 450 1052.5 M 422.5 1052.5 L 427.5 1057.5 L 440 1052.5 M 421.2 1080 L 427.5 1060 M 448.8 1078.8 L 452.5 1055" fill="none" stroke="#999999" stroke-width="2.8"/>
<ellipse cx="426.2" cy="1053.8" rx="2.0" ry="2.5" fill="none" stroke="#999999" stroke-width="2.8"/>
<path d="M 340.5 887.5 L 362 990" fill="none" stroke="#999999" stroke-width="5.6"/>
<path d="M 340.5 887.5 L 362 990" fill="none" stroke="#fff" stroke-width="1.4"/>
<path d="M 389.5 848.8 L 378 966.2" fill="none" stroke="#999999" stroke-width="6.6"/>
<path d="M 389.5 848.8 L 378 966.2" fill="none" stroke="#fff" stroke-width="2.0"/>
<path d="M 427 865 L 421.2 895 L 413 920 L 409.5 960" fill="none" stroke="#999999" stroke-width="6.6"/>
<path d="M 427 865 L 421.2 895 L 413 920 L 409.5 960" fill="none" stroke="#fff" stroke-width="2.0"/>
<path d="M 541.2 897 L 508 938 L 493.8 952.5 L 451.2 1012.5 L 429.5 1051.2" fill="none" stroke="#999999" stroke-width="6.6"/>
<path d="M 541.2 897 L 508 938 L 493.8 952.5 L 451.2 1012.5 L 429.5 1051.2" fill="none" stroke="#fff" stroke-width="2.0"/>
<path d="M 445 916.2 L 430.5 995" fill="none" stroke="#999999" stroke-width="5.6"/>
<path d="M 445 916.2 L 430.5 995" fill="none" stroke="#fff" stroke-width="1.4"/>
<path d="M 501.2 951.2 L 486.2 1000 L 483 1061.2" fill="none" stroke="#999999" stroke-width="6.6"/>
<path d="M 501.2 951.2 L 486.2 1000 L 483 1061.2" fill="none" stroke="#fff" stroke-width="2.0"/>
<path d="M 511.2 960 L 496.2 1005 L 493.8 1065" fill="none" stroke="#999999" stroke-width="5.6"/>
<path d="M 511.2 960 L 496.2 1005 L 493.8 1065" fill="none" stroke="#fff" stroke-width="1.4"/>
<path d="M 535 945.5 L 533 975" fill="none" stroke="#999999" stroke-width="5.6"/>
<path d="M 535 945.5 L 533 975" fill="none" stroke="#fff" stroke-width="1.4"/>
<path d="M 395 963.8 L 397.5 960 L 420 965 L 422.5 975 L 400 977.5 Z" fill="#fff" stroke="#999999" stroke-width="3.6"/>
<path d="M 427.5 1005 L 432.5 1001.2 L 446.2 1007.5 L 445 1015 L 435 1015 Z" fill="#fff" stroke="#999999" stroke-width="3.6"/>
<path d="M 406.2 916.2 L 417.5 920 L 415 931.2 L 408.8 927.5 Z M 485 932.5 L 505 930 L 507.5 940 L 490 943.8 Z" fill="#fff" stroke="#999999" stroke-width="2.8"/>
<path d="M 330 860 L 345 855 L 347.5 870 L 335 875 Z M 331.2 860 L 330 882.5 L 337.5 886.2" fill="none" stroke="#999999" stroke-width="3.6"/>
<path d="M 350 838.8 L 347.5 847.5 L 356.2 850 M 347.5 835 L 367.5 825" fill="none" stroke="#999999" stroke-width="3.6"/>
<path d="M 1023.8 570 Q 1027.5 565 1036.2 566.2 L 1110 593.8 L 1201.2 672.5 L 1200 745 L 1202.5 748.8 L 1187.5 766.2 Q 1182.5 769.5 1176.2 768 L 1007.5 698.8 Q 1005 696.2 1007.5 693.8 L 1012.5 690 L 1018 691.2 L 1022.5 575 Z" fill="#136607" stroke="#000" stroke-width="3.8"/>
<path d="M 1023 577.5 L 1110.8 612.8" fill="none" stroke="#000" stroke-width="2.4"/>
<path d="M 1022.5 586.5 L 1128.2 628.8" fill="none" stroke="#000" stroke-width="2.4"/>
<path d="M 1022.2 595.5 L 1145.8 645" fill="none" stroke="#000" stroke-width="2.4"/>
<path d="M 1021.8 604.5 L 1163 661" fill="none" stroke="#000" stroke-width="2.4"/>
<path d="M 1021.2 613.5 L 1180.5 677.2" fill="none" stroke="#000" stroke-width="2.4"/>
<path d="M 1021 622.5 L 1185.8 688.5" fill="none" stroke="#000" stroke-width="2.4"/>
<path d="M 1020.5 631.5 L 1185 697.2" fill="none" stroke="#000" stroke-width="2.4"/>
<path d="M 1020 640.5 L 1184.2 706.2" fill="none" stroke="#000" stroke-width="2.4"/>
<path d="M 1019.8 649.5 L 1183.5 715" fill="none" stroke="#000" stroke-width="2.4"/>
<path d="M 1019.2 658.5 L 1182.8 723.8" fill="none" stroke="#000" stroke-width="2.4"/>
<path d="M 1019 667.5 L 1182 732.8" fill="none" stroke="#000" stroke-width="2.4"/>
<path d="M 1018.5 676.5 L 1181.2 741.5" fill="none" stroke="#000" stroke-width="2.4"/>
<path d="M 1018 685.5 L 1180.5 750.5" fill="none" stroke="#000" stroke-width="2.4"/>
<path d="M 1028 571 L 1103 600.8 L 1186.2 682.5 L 1180 755 M 1110 593.8 L 1101.2 603.8 M 1106.2 598 L 1193.8 677.5 L 1186.2 755.5 M 1186.2 682.5 L 1201.2 672.5 M 1190 680 L 1185 754.5 M 1196.2 676.2 L 1192.5 751.2" fill="none" stroke="#000" stroke-width="2.6"/>
<path d="M 1018 691.2 L 1180 755 L 1187.5 752.5 L 1200 745 M 1180 755 L 1177.5 767.5" fill="none" stroke="#000" stroke-width="2.6"/>
<path d="M 1042.5 705 L 1062.5 712.5 L 1058.8 715 L 1040 708 Z M 1082.5 721.2 L 1105 729.5 L 1101.2 733 L 1080 725 Z M 1153.8 750 L 1172.5 757 L 1170 760 L 1151.2 753 Z" fill="none" stroke="#000" stroke-width="2.2"/>
<path d="M1254.03 742.50 L1259.13 742.50 L1259.13 703.00 L1255.73 703.00 Q1253.93 709.50 1245.33 710.30 L1245.33 713.90 L1254.03 713.90 Z" fill="#000" stroke="none"/>
<text x="1269.2" y="742.5" font-size="56.5" fill="#000" text-anchor="start">0</text>
<path d="M1242.5 725.5 L1212.0 725.5" stroke="#000" stroke-width="3.2" fill="none"/>
<path d="M1199.0 725.5 L1214.0 717.0 L1214.0 734.0 Z" fill="#000" stroke="none"/>
<path d="M 976.2 735 Q 985 720 1001.2 717.5 L 1160 792.5 Q 1170 797.5 1168.8 805 L 1167.5 810 L 1148.8 820 L 1138.8 827.5 L 1127.5 815 L 983.8 748.8 L 980 753.8 L 972.5 747.5 Z" fill="none" stroke="#999999" stroke-width="3.6"/>
<path d="M 982.5 740 L 1142.5 813.8 L 1166.2 802.5 M 1142.5 813.8 L 1138.8 827.5 M 978.8 740 L 983.8 748.8" fill="none" stroke="#999999" stroke-width="2.8"/>
<path d="M 1000 741.2 Q 1001.2 737.5 1006.2 738.8 L 1015 743.8 Q 1018.8 745.5 1017.5 749.5 Q 1013.8 751.2 1011.2 748 L 1003.8 744.5 Q 1000 744.5 1000 741.2 Z" fill="none" stroke="#999999" stroke-width="2.8"/>
<path d="M 1016.2 731.8 Q 1017.5 728 1022.5 729.2 L 1031.2 734.2 Q 1035 736 1033.8 740 Q 1030 741.8 1027.5 738.5 L 1020 735 Q 1016.2 735 1016.2 731.8 Z" fill="none" stroke="#999999" stroke-width="2.8"/>
<path d="M 1038.8 760 Q 1040 756.2 1045 757.5 L 1053.8 762.5 Q 1057.5 764.2 1056.2 768.2 Q 1052.5 770 1050 766.8 L 1042.5 763.2 Q 1038.8 763.2 1038.8 760 Z" fill="none" stroke="#999999" stroke-width="2.8"/>
<path d="M 1055 750 Q 1056.2 746.2 1061.2 747.5 L 1070 752.5 Q 1073.8 754.2 1072.5 758.2 Q 1068.8 760 1066.2 756.8 L 1058.8 753.2 Q 1055 753.2 1055 750 Z" fill="none" stroke="#999999" stroke-width="2.8"/>
<path d="M 1106.2 792.5 Q 1107.5 788.8 1112.5 790 L 1121.2 795 Q 1125 796.8 1123.8 800.8 Q 1120 802.5 1117.5 799.2 L 1110 795.8 Q 1106.2 795.8 1106.2 792.5 Z" fill="none" stroke="#999999" stroke-width="2.8"/>
<path d="M 1122.5 781.2 Q 1123.8 777.5 1128.8 778.8 L 1137.5 783.8 Q 1141.2 785.5 1140 789.5 Q 1136.2 791.2 1133.8 788 L 1126.2 784.5 Q 1122.5 784.5 1122.5 781.2 Z" fill="none" stroke="#999999" stroke-width="2.8"/>
<ellipse cx="1152.0" cy="806.2" rx="4.5" ry="2.8" fill="none" stroke="#999999" stroke-width="2.8" transform="rotate(10 1152.0 806.2)"/>
<path d="M 1112.5 802.5 L 1122.5 807 L 1120 809.5 L 1110 805 Z" fill="none" stroke="#999999" stroke-width="2.3"/>
<path d="M1226.09 824.20 L1231.19 824.20 L1231.19 784.70 L1227.79 784.70 Q1225.99 791.20 1217.39 792.00 L1217.39 795.60 L1226.09 795.60 Z" fill="#999999" stroke="none"/>
<path d="M1257.51 824.20 L1262.61 824.20 L1262.61 784.70 L1259.21 784.70 Q1257.41 791.20 1248.81 792.00 L1248.81 795.60 L1257.51 795.60 Z" fill="#999999" stroke="none"/>
<path d="M1212.5 805.7 L1183.0 805.7" stroke="#999999" stroke-width="3.2" fill="none"/>
<path d="M1170.0 805.7 L1185.0 797.2 L1185.0 814.2 Z" fill="#999999" stroke="none"/>
<path d="M 936.2 511.2 Q 937.5 506.2 943.8 506.2 Q 951.2 507 951.2 512.5 L 952.5 547.5 L 957.5 550 Q 960.5 553.8 959.5 560 L 958.8 578.8 L 940 588.8 L 931.2 582.5 L 929.5 560 Q 928.8 553.8 935 551.2 L 938.8 548.8 Z" fill="none" stroke="#999999" stroke-width="3.6"/>
<ellipse cx="943.8" cy="510.5" rx="6.0" ry="2.8" fill="none" stroke="#999999" stroke-width="2.8"/>
<path d="M 929.5 560 Q 940 567.5 959.5 560 M 938.8 548.8 Q 945 552.5 952.5 547.5 M 940 588.8 L 940 576.2 L 931.2 570 M 940 576.2 L 958.8 567.5 M 947.5 585 L 947.5 572.5" fill="none" stroke="#999999" stroke-width="2.8"/>
<text x="836.5" y="555.5" font-size="56.5" fill="#999999" text-anchor="start">2</text>
<text x="867.9" y="555.5" font-size="56.5" fill="#999999" text-anchor="start">4</text>
<path d="M890.0 533.2 L923.5 533.2" stroke="#999999" stroke-width="3.2" fill="none"/>
<path d="M936.5 533.2 L921.5 541.7 L921.5 524.7 Z" fill="#999999" stroke="none"/>
<ellipse cx="834.5" cy="617.0" rx="8.8" ry="12.0" fill="none" stroke="#999999" stroke-width="3.6" transform="rotate(-10 834.5 617.0)"/>
<ellipse cx="833.8" cy="617.5" rx="4.0" ry="6.2" fill="none" stroke="#999999" stroke-width="2.8" transform="rotate(-10 833.8 617.5)"/>
<path d="M 838.8 606.2 L 857.5 608.8 Q 865 612.5 870 625 L 878.8 642.5 L 876.2 646.2 L 897.5 715 Q 898 725 892.5 735 L 878.8 767.5" fill="none" stroke="#999999" stroke-width="3.6"/>
<path d="M 842.5 628 L 850 625 Q 855 630 860 642.5 L 867.5 650 L 885 715 Q 885 722.5 880 732.5 L 866.2 765" fill="none" stroke="#999999" stroke-width="3.6"/>
<path d="M 857.5 640 L 876.2 635 M 862.5 647 L 878.8 642.5 M 870 763.8 L 880 767.5 M 847.5 610 Q 852.5 620 850 625 M 860 630 L 865 628.8" fill="none" stroke="#999999" stroke-width="2.8"/>
<path d="M 882.5 765 L 875 793.8 Q 865 803.8 852.5 796.2 Q 843.8 785 850 772.5 Q 858.8 763.8 871.2 768.8 M 872.5 775 Q 862.5 768.8 857 777.5 Q 853.8 788.8 862.5 793" fill="none" stroke="#999999" stroke-width="3.6"/>
<path d="M 859.5 775 Q 856.2 785 863.8 791.2" fill="none" stroke="#999999" stroke-width="2.8"/>
<text x="836.9" y="893.5" font-size="56.5" fill="#999999" text-anchor="start">2</text>
<text x="868.3" y="893.5" font-size="56.5" fill="#999999" text-anchor="start">6</text>
<path d="M861.2 847.5 L861.2 815.5" stroke="#999999" stroke-width="3.2" fill="none"/>
<path d="M861.2 802.5 L869.7 817.5 L852.7 817.5 Z" fill="#999999" stroke="none"/>
<path d="M 912.5 825 L 922.5 816.2 L 936.2 821.2 L 937.5 812.5 L 946.2 807.5 L 947.5 800 L 958.8 786.2 L 965 791.2 L 971.2 788.8 L 971.2 777.5 L 977.5 771.2 L 986.2 770 L 1111.2 826.2 L 1117.5 832.5 L 1118.8 843.8 L 1148.8 873.8 L 1161.2 883.8 L 1143.8 891.2 L 1142.5 896.2 L 1132.5 912.5 L 1103.8 900 L 1095 903.8 Z" fill="none" stroke="#999999" stroke-width="3.6"/>
<ellipse cx="925.5" cy="825.8" rx="2.8" ry="2.2" fill="none" stroke="#999999" stroke-width="2.8"/>
<ellipse cx="1002.0" cy="822.5" rx="5.0" ry="4.0" fill="none" stroke="#999999" stroke-width="2.8"/>
<ellipse cx="968.0" cy="834.5" rx="7.5" ry="6.0" fill="none" stroke="#999999" stroke-width="2.8"/>
<ellipse cx="992.0" cy="848.8" rx="7.5" ry="6.0" fill="none" stroke="#999999" stroke-width="2.8"/>
<ellipse cx="1020.0" cy="855.8" rx="9.2" ry="6.8" fill="none" stroke="#999999" stroke-width="2.8"/>
<ellipse cx="1043.8" cy="870.5" rx="7.0" ry="6.0" fill="none" stroke="#999999" stroke-width="2.8"/>
<ellipse cx="1068.0" cy="880.0" rx="7.5" ry="6.0" fill="none" stroke="#999999" stroke-width="2.8"/>
<ellipse cx="1091.2" cy="890.8" rx="7.5" ry="6.0" fill="none" stroke="#999999" stroke-width="2.8"/>
<ellipse cx="1090.8" cy="855.5" rx="5.0" ry="4.0" fill="none" stroke="#999999" stroke-width="2.8"/>
<path d="M1183.7 904.5 L1150.5 904.5" stroke="#999999" stroke-width="3.2" fill="none"/>
<path d="M1137.5 904.5 L1152.5 896.0 L1152.5 913.0 Z" fill="#999999" stroke="none"/>
<path d="M 848.8 962.5 L 887.5 958.8 L 905 960 L 910 963.8 L 910 985 L 900 988.8 L 901.2 1000 Q 897.5 1007.5 887.5 1010 L 865 1016.2 L 851.2 1013.8 L 840 1011.2 L 839.5 1002.5 L 853.8 992.5 L 856.2 980 L 843.8 971.2 Z" fill="none" stroke="#999999" stroke-width="3.6"/>
<path d="M 853.8 966.2 L 868.8 971.2 L 887.5 965 L 905 963.8 M 868.8 971.2 L 865.5 992.5 L 900 983.8 M 865.5 992.5 L 866.2 1005 L 865 1015 M 856.2 980 L 862.5 977.5 M 853.8 992.5 L 860 1000 L 860 1012.5 M 843.8 1003.8 L 843.8 1011.2 M 900 961.2 L 901.2 986.2" fill="none" stroke="#999999" stroke-width="2.8"/>
<ellipse cx="850.8" cy="1007.0" rx="2.8" ry="3.2" fill="none" stroke="#999999" stroke-width="2.8"/>
<text x="962.4" y="1000.5" font-size="56.5" fill="#999999" text-anchor="start">2</text>
<path d="M956.2 978.7 L924.5 978.7" stroke="#999999" stroke-width="3.2" fill="none"/>
<path d="M911.5 978.7 L926.5 970.2 L926.5 987.2 Z" fill="#999999" stroke="none"/>
<path d="M 1095 935 Q 1096.2 928.8 1103.8 928.8 Q 1112.5 929.5 1112.5 935 L 1112.5 951.2 Q 1125 953.8 1126.2 960 L 1125 971.2 Q 1117.5 980 1103.8 980 Q 1087.5 978.8 1083.8 970 L 1083.8 957.5 Q 1087.5 952.5 1096.2 952 Z" fill="none" stroke="#999999" stroke-width="3.6"/>
<ellipse cx="1103.8" cy="933.8" rx="8.5" ry="3.5" fill="none" stroke="#999999" stroke-width="2.8"/>
<path d="M 1096.2 940 Q 1103.8 943.8 1112.5 940 M 1096.2 946.2 Q 1103.8 950 1112.5 946.2 M 1083.8 960 Q 1090 968.8 1103.8 968.8 Q 1120 967.5 1126.2 960 M 1096.2 952 Q 1103.8 957.5 1112.5 952.5" fill="none" stroke="#999999" stroke-width="2.8"/>
<path d="M1087.40 1074.50 L1092.50 1074.50 L1092.50 1035.00 L1089.10 1035.00 Q1087.30 1041.50 1078.70 1042.30 L1078.70 1045.90 L1087.40 1045.90 Z" fill="#999999" stroke="none"/>
<text x="1102.5" y="1074.5" font-size="56.5" fill="#999999" text-anchor="start">3</text>
<path d="M1102.5 1025.0 L1102.5 994.5" stroke="#999999" stroke-width="3.2" fill="none"/>
<path d="M1102.5 981.5 L1111.0 996.5 L1094.0 996.5 Z" fill="#999999" stroke="none"/>
<path d="M 734.2 857 L 813.2 857 L 813.2 1073.2 L 646.2 1073.2 L 646.2 978.8 Z" fill="#f8f8f8" stroke="#999999" stroke-width="3.6" stroke-linejoin="miter"/>
<text x="748.5" y="833.0" font-size="56.5" fill="#999999" text-anchor="start">2</text>
<text x="780.0" y="833.0" font-size="56.5" fill="#999999" text-anchor="start">7</text>
<path d="M777.5 839.5 L777.5 857.0" stroke="#999999" stroke-width="3.2" fill="none"/>
<path d="M 756.2 871.2 Q 760 866.2 772.5 868.8 Q 778.8 873.8 780 885 L 782.5 892.5 Q 788.8 900 785 908.8 Q 780 915 772.5 912.5 Q 765 908.8 763.8 902.5 L 760 885 L 756.2 877.5 Z" fill="#f8f8f8" stroke="#999999" stroke-width="3.6"/>
<ellipse cx="770.0" cy="878.0" rx="3.0" ry="3.8" fill="none" stroke="#999999" stroke-width="2.8"/>
<ellipse cx="778.0" cy="903.8" rx="3.5" ry="4.2" fill="none" stroke="#999999" stroke-width="2.8"/>
<path d="M 761.2 872.5 L 767.5 897.5 L 775 895 M 760 871.2 Q 763.8 868.8 767.5 871.2" fill="none" stroke="#999999" stroke-width="2.8"/>
<path d="M 698.8 931.2 Q 701.2 927.5 707.5 930 L 717.5 931.2 Q 723.8 935 723.8 942.5 L 727.5 958.8 Q 733.8 962.5 731.2 968.8 Q 726.2 972.5 720 968.8 Q 715 965 713.8 958.8 L 705 940 L 700 936.2 Z" fill="#f8f8f8" stroke="#999999" stroke-width="3.6"/>
<ellipse cx="716.2" cy="940.0" rx="2.8" ry="3.5" fill="none" stroke="#999999" stroke-width="2.8"/>
<ellipse cx="727.0" cy="964.5" rx="3.0" ry="3.2" fill="none" stroke="#999999" stroke-width="2.8"/>
<path d="M 703.8 932.5 L 710 940 L 718.8 960" fill="none" stroke="#999999" stroke-width="2.8"/>
<path d="M 743.8 935 Q 746.2 928.8 755 929.5 L 772.5 928 Q 780 930 782.5 937.5 L 786.2 942.5 Q 787.5 950 781.2 953.8 Q 775 955 772.5 948.8 L 768.8 943.8 L 753.8 947 Q 745 945 743.8 935 Z" fill="#f8f8f8" stroke="#999999" stroke-width="3.6"/>
<ellipse cx="749.2" cy="938.0" rx="4.5" ry="6.0" fill="none" stroke="#999999" stroke-width="2.8"/>
<ellipse cx="780.0" cy="946.2" rx="3.5" ry="4.5" fill="none" stroke="#999999" stroke-width="2.8"/>
<path d="M 757.5 932.5 L 758.8 942.5 M 767.5 937.5 L 775 935 L 777.5 940" fill="none" stroke="#999999" stroke-width="2.8"/>
<path d="M 758.8 1008.8 L 775 996.2 L 791.2 1002.5 L 790 1007.5 L 775 1015 L 773.8 1018.8 L 762.5 1021.2 L 758.8 1016.2 Z" fill="#f8f8f8" stroke="#999999" stroke-width="3.6"/>
<path d="M 775 1000 L 773.8 1005 L 790 1007.5 M 767.5 1006.2 L 773.8 1005 L 775 1015" fill="none" stroke="#999999" stroke-width="2.8"/>
<ellipse cx="680.5" cy="1012.0" rx="25.0" ry="31.2" fill="#f8f8f8" stroke="#999999" stroke-width="3.6" transform="rotate(20 680.5 1012.0)"/>
<ellipse cx="678.8" cy="1013.8" rx="23.8" ry="29.5" fill="none" stroke="#999999" stroke-width="2.8" transform="rotate(20 678.8 1013.8)"/>
<ellipse cx="683.0" cy="1011.2" rx="20.5" ry="26.2" fill="none" stroke="#999999" stroke-width="2.8" transform="rotate(20 683.0 1011.2)"/>
<ellipse cx="683.0" cy="1010.0" rx="13.8" ry="18.8" fill="none" stroke="#999999" stroke-width="2.8" transform="rotate(20 683.0 1010.0)"/>
<ellipse cx="684.2" cy="1008.8" rx="8.2" ry="12.5" fill="none" stroke="#999999" stroke-width="2.8" transform="rotate(20 684.2 1008.8)"/>
<ellipse cx="730.0" cy="1032.5" rx="21.2" ry="27.0" fill="#f8f8f8" stroke="#999999" stroke-width="3.6" transform="rotate(22 730.0 1032.5)"/>
<ellipse cx="731.5" cy="1032.0" rx="17.5" ry="23.0" fill="none" stroke="#999999" stroke-width="2.8" transform="rotate(22 731.5 1032.0)"/>
<path d="M 720 1020 L 735 1015 L 745 1020 L 746.2 1030 L 735 1032.5 L 725 1042.5 L 722.5 1052.5 L 715 1047.5 L 713.8 1032.5 Z M 732.5 1017.5 L 735 1023.8 L 740 1021.2 M 730 1040 Q 732.5 1032.5 738.8 1033.8 L 737.5 1042.5 M 708.8 1020 L 712.5 1027.5 L 711.2 1045" fill="none" stroke="#999999" stroke-width="2.8"/>
<rect x="1320.6" y="576.2" width="199" height="435.3" fill="#f8f8f8" stroke="#999" stroke-width="3.6" stroke-linejoin="miter"/>
<path d="M1423.0 1013.0 L1423.0 1027.5" stroke="#999999" stroke-width="3.2" fill="none"/>
<text x="1397.3" y="1081.7" font-size="56.5" fill="#999999" text-anchor="start">3</text>
<text x="1428.7" y="1081.7" font-size="56.5" fill="#999999" text-anchor="start">2</text>
<text x="1374.7" y="852.5" font-size="56.5" fill="#999999" text-anchor="start">3</text>
<text x="1406.2" y="852.5" font-size="56.5" fill="#999999" text-anchor="start">3</text>
<path d="M1399.2 860.0 L1399.2 892.0" stroke="#999999" stroke-width="3.2" fill="none"/>
<path d="M1399.2 905.0 L1390.7 890.0 L1407.7 890.0 Z" fill="#999999" stroke="none"/>
<path d="M1200.85 921.20 L1205.95 921.20 L1205.95 881.70 L1202.55 881.70 Q1200.75 888.20 1192.15 889.00 L1192.15 892.60 L1200.85 892.60 Z" fill="#999999" stroke="none"/>
<text x="1216.0" y="921.2" font-size="56.5" fill="#999999" text-anchor="start">2</text>
<path d="M 1360 670 Q 1346.2 690 1365 713.8 Q 1390 740.5 1440 741.8 Q 1487.5 738 1506.2 710 Q 1517.5 690 1497.5 665" fill="none" stroke="#999999" stroke-width="3.6"/>
<path d="M 1363.8 677.5 Q 1353.8 695 1372.5 715 Q 1397.5 735 1440 735 Q 1482.5 732.5 1501.2 708.8 Q 1510 692.5 1500 677.5 M 1367 711.2 Q 1400 730 1440 728 Q 1475 727 1497.5 710" fill="none" stroke="#999999" stroke-width="2.8"/>
<path d="M 1357.5 672.5 L 1340 670 L 1336.2 676.2 L 1337.5 681.2 L 1355 683.8 M 1340 670 L 1341.2 676.2 L 1355 678" fill="none" stroke="#999999" stroke-width="3.6"/>
<path d="M 1401.2 740 L 1400 753.8 Q 1420 767.5 1447.5 766.2 L 1450 757.5 L 1467.5 757.5 L 1482.5 752.5 L 1482.5 738.8 M 1450 757.5 L 1450 742.5 M 1467.5 757.5 L 1467 738.8 M 1471.2 755.5 L 1471.2 738 M 1440 743.8 L 1443.8 748.8 L 1457.5 745 L 1455 741.2 M 1497.5 722.5 L 1496.2 735 L 1482.5 745 M 1405 718.8 L 1398.8 727.5 M 1415 720 L 1412.5 730" fill="none" stroke="#999999" stroke-width="3.6"/>
<path d="M 1369 643.8 L 1372.5 690 Q 1375 710 1432.5 720 Q 1487.5 715 1491.2 696.2 L 1496 643.8 Z" fill="#f8f8f8" stroke="#999999" stroke-width="3.6"/>
<ellipse cx="1432.5" cy="641.2" rx="63.8" ry="33.8" fill="#f8f8f8" stroke="#999999" stroke-width="3.6"/>
<path d="M 1378.8 659.5 L 1378.8 704.5" fill="none" stroke="#999999" stroke-width="2.8"/>
<path d="M 1391.8 667.2 L 1391.8 712.5" fill="none" stroke="#999999" stroke-width="2.8"/>
<path d="M 1404.8 671.8 L 1404.8 716.8" fill="none" stroke="#999999" stroke-width="2.8"/>
<path d="M 1417.8 674 L 1417.8 719" fill="none" stroke="#999999" stroke-width="2.8"/>
<path d="M 1430.8 675 L 1430.8 720" fill="none" stroke="#999999" stroke-width="2.8"/>
<path d="M 1443.8 674.5 L 1443.8 719.5" fill="none" stroke="#999999" stroke-width="2.8"/>
<path d="M 1456.8 672.5 L 1456.8 717.5" fill="none" stroke="#999999" stroke-width="2.8"/>
<path d="M 1469.8 668.8 L 1469.8 713.8" fill="none" stroke="#999999" stroke-width="2.8"/>
<path d="M 1482.8 662 L 1482.8 707.2" fill="none" stroke="#999999" stroke-width="2.8"/>
<path d="M 1385 622.2 L 1382.5 629 L 1382.5 661" fill="none" stroke="#999999" stroke-width="2.8"/>
<path d="M 1397 616.2 L 1394.5 623 L 1394.5 656.8" fill="none" stroke="#999999" stroke-width="2.8"/>
<path d="M 1409 612.5 L 1406.5 619.2 L 1406.5 653" fill="none" stroke="#999999" stroke-width="2.8"/>
<path d="M 1421 610.2 L 1418.5 617 L 1418.5 650.8" fill="none" stroke="#999999" stroke-width="2.8"/>
<path d="M 1433 609.5 L 1430.5 616.2 L 1430.5 650" fill="none" stroke="#999999" stroke-width="2.8"/>
<path d="M 1445 610 L 1442.5 616.8 L 1442.5 650.5" fill="none" stroke="#999999" stroke-width="2.8"/>
<path d="M 1457 611.5 L 1454.5 618.2 L 1454.5 652" fill="none" stroke="#999999" stroke-width="2.8"/>
<path d="M 1469 614.8 L 1466.5 621.5 L 1466.5 655.2" fill="none" stroke="#999999" stroke-width="2.8"/>
<path d="M 1481 620 L 1478.5 626.8 L 1478.5 660.5" fill="none" stroke="#999999" stroke-width="2.8"/>
<ellipse cx="1431.2" cy="647.0" rx="7.5" ry="3.5" fill="#f8f8f8" stroke="#999999" stroke-width="2.8"/>
<ellipse cx="1431.2" cy="646.5" rx="3.0" ry="1.5" fill="none" stroke="#999999" stroke-width="2.3"/>
<path d="M 1423.8 647.5 L 1423.8 657 M 1438.8 647.5 L 1438.8 657 M 1431.2 660 L 1407.5 677.5 M 1431.2 660 L 1425 680 M 1431.2 660 L 1437.5 680 M 1431.2 660 L 1452.5 676.2 M 1423.8 657 L 1390 670 M 1438.8 657 L 1470 667.5 M 1423.8 657 L 1412.5 677.5 M 1438.8 657 L 1447.5 677.5 M 1427.5 660 L 1422.5 677.5 L 1435 680 M 1375 655 L 1385 660 L 1383.8 670 M 1477.5 635 L 1487.5 640 L 1485 652.5" fill="none" stroke="#999999" stroke-width="2.8"/>
<path d="M 1350 928 L 1462.5 879.5 L 1471.2 883.8 Q 1477.5 881.2 1483.8 884.5 L 1483.8 891.2 L 1493.8 901.2 L 1494.5 930 L 1485 945 L 1468.8 953.8 L 1467.5 965 L 1430 980.5 L 1426.2 976.2 L 1412.5 983.8 L 1410 989.5 L 1402.5 990 L 1398.8 986.2 L 1385 988.8 L 1350 966.2 Z" fill="#f8f8f8" stroke="#999999" stroke-width="3.6"/>
<path d="M 1365 927.5 L 1460 887 L 1481.2 900 L 1480 910 L 1461.2 922.5 L 1457.5 926.2 L 1426.2 936.2 L 1418.8 941.2 L 1407.5 945 L 1383.8 947.5 Z" fill="none" stroke="#999999" stroke-width="2.8"/>
<path d="M 1354.5 932.5 L 1382.5 951.2 L 1411.2 947.5 L 1426.2 942.5 L 1465 927.5 L 1490 905 M 1382.5 951.2 L 1381.2 987.5 M 1400 955 L 1400 986.2 M 1403 952.5 L 1403.8 988.8 M 1411.2 947.5 L 1412.5 983.8 M 1426.2 942.5 L 1426.2 976.2 M 1430 945 L 1430 980.5 M 1465 927.5 L 1465 957.5 L 1468.8 953.8 M 1467.5 925 L 1468 952.5 M 1350 928 L 1462.5 882.5" fill="none" stroke="#999999" stroke-width="2.8"/>
<ellipse cx="1372.5" cy="928.8" rx="3.0" ry="2.0" fill="#bbb" stroke="#999999" stroke-width="2.3"/>
<ellipse cx="1383.8" cy="936.2" rx="3.0" ry="2.0" fill="#bbb" stroke="#999999" stroke-width="2.3"/>
<ellipse cx="1393.0" cy="933.8" rx="3.0" ry="2.0" fill="#bbb" stroke="#999999" stroke-width="2.3"/>
<ellipse cx="1401.2" cy="935.0" rx="3.0" ry="2.0" fill="#bbb" stroke="#999999" stroke-width="2.3"/>
<ellipse cx="1407.0" cy="939.5" rx="3.0" ry="2.0" fill="#bbb" stroke="#999999" stroke-width="2.3"/>
<ellipse cx="1407.5" cy="922.5" rx="3.0" ry="2.0" fill="#bbb" stroke="#999999" stroke-width="2.3"/>
<ellipse cx="1424.2" cy="925.5" rx="3.0" ry="2.0" fill="#bbb" stroke="#999999" stroke-width="2.3"/>
<ellipse cx="1430.5" cy="930.0" rx="3.0" ry="2.0" fill="#bbb" stroke="#999999" stroke-width="2.3"/>
<ellipse cx="1429.5" cy="914.2" rx="3.0" ry="2.0" fill="#bbb" stroke="#999999" stroke-width="2.3"/>
<ellipse cx="1444.5" cy="923.2" rx="3.0" ry="2.0" fill="#bbb" stroke="#999999" stroke-width="2.3"/>
<ellipse cx="1456.2" cy="915.5" rx="3.0" ry="2.0" fill="#bbb" stroke="#999999" stroke-width="2.3"/>
<ellipse cx="1457.0" cy="904.5" rx="3.0" ry="2.0" fill="#bbb" stroke="#999999" stroke-width="2.3"/>
<ellipse cx="1467.5" cy="906.8" rx="3.0" ry="2.0" fill="#bbb" stroke="#999999" stroke-width="2.3"/>
<ellipse cx="1440.0" cy="897.5" rx="3.0" ry="2.0" fill="#bbb" stroke="#999999" stroke-width="2.3"/>
<ellipse cx="1455.5" cy="891.2" rx="3.0" ry="2.0" fill="#bbb" stroke="#999999" stroke-width="2.3"/>
<path d="M 1356.2 958.8 Q 1357.5 952.5 1365 950.5 L 1378.8 958.8 L 1378.8 962.5 L 1360 963.8 Q 1356.2 962.5 1356.2 958.8 Z" fill="none" stroke="#999999" stroke-width="2.8"/>
<ellipse cx="1365.0" cy="957.0" rx="2.0" ry="1.0" fill="none" stroke="#999999" stroke-width="2.3"/>
</svg>
</body></html>
